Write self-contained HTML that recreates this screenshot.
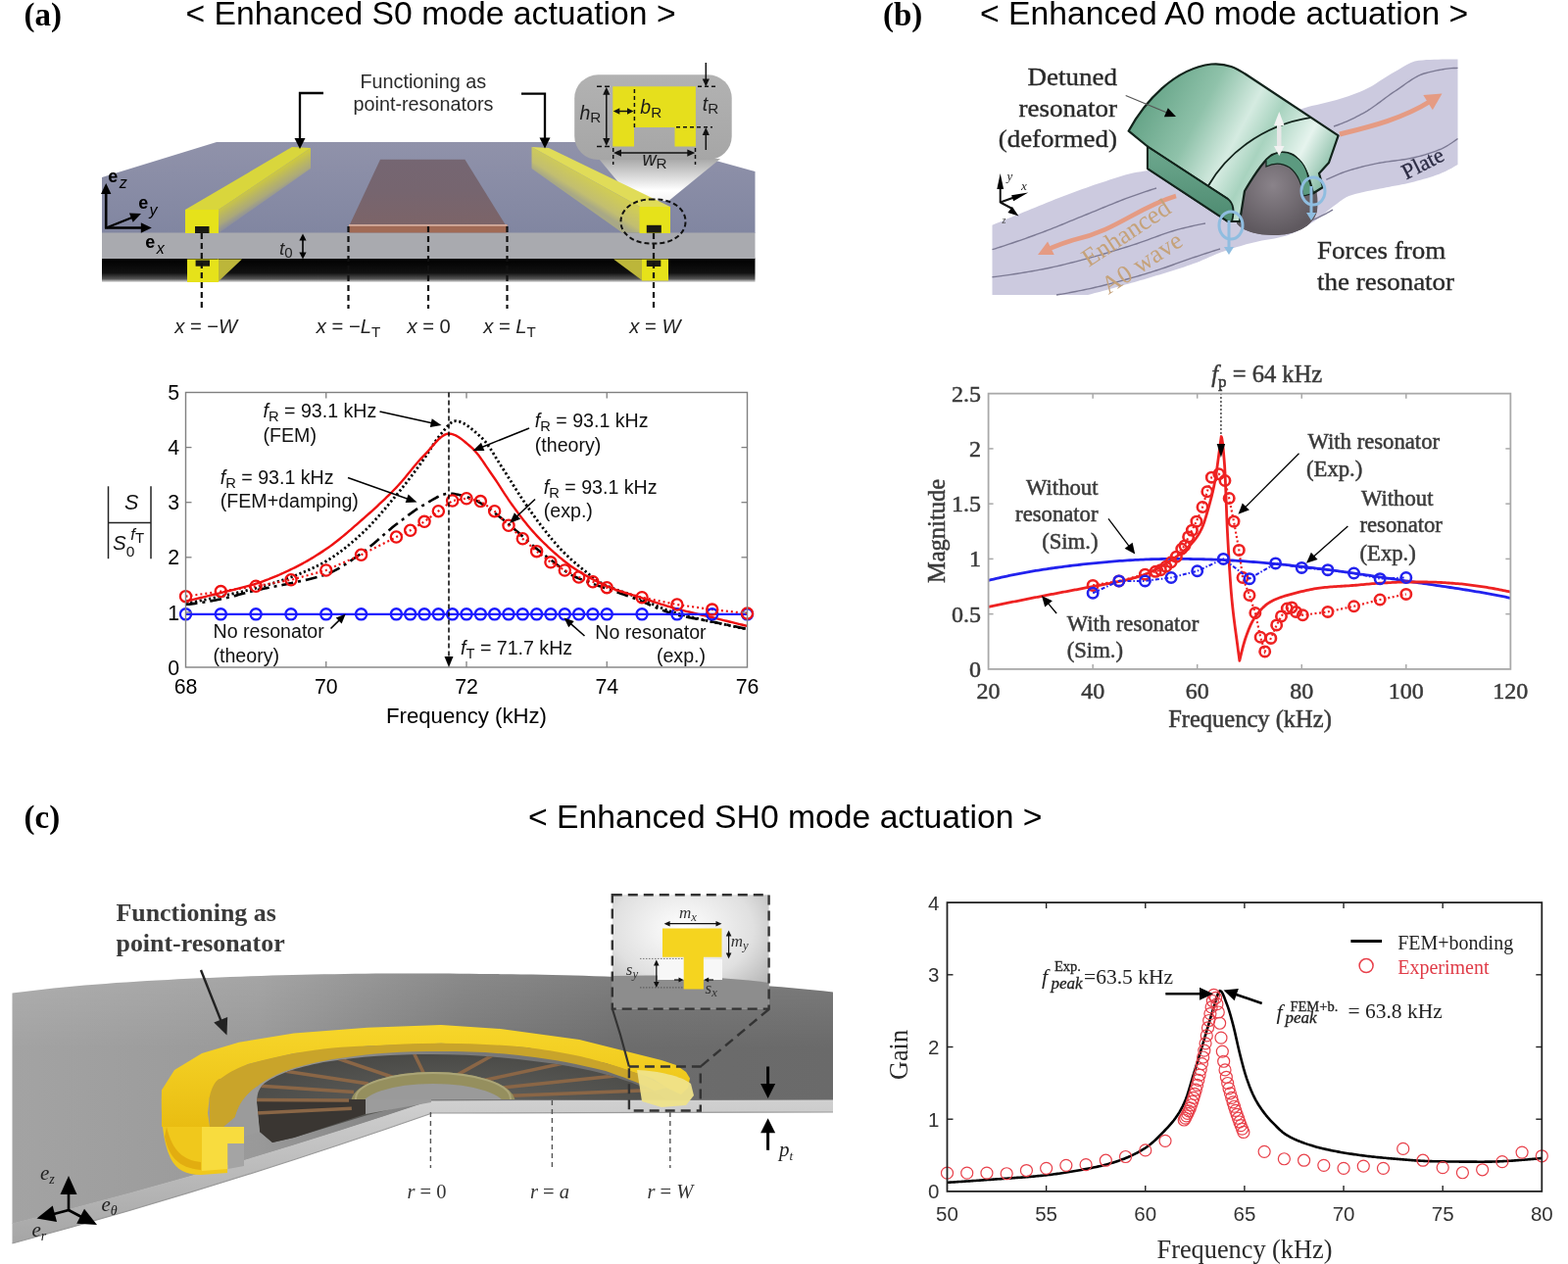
<!DOCTYPE html>
<html><head><meta charset="utf-8"><title>Enhanced mode actuation</title>
<style>html,body{margin:0;padding:0;background:#fff;overflow:hidden}svg{display:block}.bt text{stroke:#3a3a3a;stroke-width:0.5px}.ct text{stroke-width:0.35px;stroke:currentColor}</style>
</head><body>
<svg width="1600" height="1290" viewBox="0 0 1600 1290">
<text x="24.5" y="25.5" font-size="33" font-family="'Liberation Serif', 'Times New Roman', serif" font-weight="bold" fill="#000">(a)</text>
<text x="901" y="25.5" font-size="33" font-family="'Liberation Serif', 'Times New Roman', serif" font-weight="bold" fill="#000">(b)</text>
<text x="24.5" y="845" font-size="33" font-family="'Liberation Serif', 'Times New Roman', serif" font-weight="bold" fill="#000">(c)</text>
<text x="189.5" y="25" font-size="33.7" font-family="'Liberation Sans', Arial, sans-serif" fill="#000">&lt; Enhanced S0 mode actuation &gt;</text>
<text x="1000" y="25" font-size="33.7" font-family="'Liberation Sans', Arial, sans-serif" fill="#000">&lt; Enhanced A0 mode actuation &gt;</text>
<text x="539" y="844.5" font-size="33.7" font-family="'Liberation Sans', Arial, sans-serif" fill="#000">&lt; Enhanced SH0 mode actuation &gt;</text>
<defs><linearGradient id="aPlate" x1="0" y1="0" x2="0" y2="1"><stop offset="0" stop-color="#9092aa"/><stop offset="1" stop-color="#8186a1"/></linearGradient><linearGradient id="aBlack" x1="0" y1="0" x2="0" y2="1"><stop offset="0" stop-color="#000"/><stop offset="0.6" stop-color="#111"/><stop offset="0.85" stop-color="#555"/><stop offset="1" stop-color="#fff"/></linearGradient><linearGradient id="aTrans" x1="0" y1="0" x2="0" y2="1"><stop offset="0" stop-color="#756672"/><stop offset="0.5" stop-color="#76656f"/><stop offset="1" stop-color="#7c6468"/></linearGradient><linearGradient id="aCone" x1="0" y1="0" x2="0" y2="1"><stop offset="0" stop-color="#a8a8a8"/><stop offset="0.75" stop-color="#ffffff"/><stop offset="1" stop-color="#f4f4f4"/></linearGradient><linearGradient id="aSideL" gradientUnits="userSpaceOnUse" x1="270" y1="182.5" x2="283" y2="203"><stop offset="0" stop-color="#cdc840"/><stop offset="0.6" stop-color="#b4b070" stop-opacity="0.8"/><stop offset="1" stop-color="#8e90a0" stop-opacity="0.3"/></linearGradient><linearGradient id="aSideR" gradientUnits="userSpaceOnUse" x1="597" y1="180" x2="585" y2="199"><stop offset="0" stop-color="#d0cc55"/><stop offset="0.7" stop-color="#c2be70"/><stop offset="1" stop-color="#a8a886"/></linearGradient><linearGradient id="aInset" x1="0" y1="0" x2="0" y2="1"><stop offset="0" stop-color="#b2b2b2"/><stop offset="1" stop-color="#a6a6a6"/></linearGradient></defs>
<polygon points="104,181 221,145 700,145 727,163 770.5,175 770.5,238 104,238" fill="url(#aPlate)"/>
<rect x="104" y="263.5" width="666.5" height="25" fill="url(#aBlack)"/>
<rect x="104" y="237.5" width="666.5" height="26.5" fill="#a9aaaf"/>
<polygon points="388,162.8 474.4,162.8 515.5,229 357,229" fill="url(#aTrans)"/>
<rect x="356" y="229" width="161.5" height="8.5" fill="#a16a55"/>
<rect x="356" y="229" width="161.5" height="1.8" fill="#d2aa9c"/>
<polygon points="611,162 735,162 682.3,205 646.7,205" fill="url(#aCone)"/>
<polygon points="223,214 317,151 317,172 223,238" fill="url(#aSideL)"/>
<polygon points="189,214 223,214 317,151 298,150" fill="#d9d63c"/>
<rect x="189" y="214" width="34" height="24" fill="#e6e21a"/>
<polygon points="222,264.5 247,264.5 222,288" fill="#bcb63a"/>
<rect x="191" y="264.5" width="32" height="23.5" fill="#e6e21a"/>
<rect x="199" y="231" width="14.5" height="7" fill="#1a1a12"/>
<rect x="199.6" y="265.5" width="14.4" height="6.2" fill="#1a1a12"/>
<polygon points="542.5,150 653,211 653,237.5 635,237.5 542.5,172" fill="url(#aSideR)"/>
<polygon points="542.5,150 560,151 684,211 653,211" fill="#e0dc58"/>
<rect x="652.5" y="211" width="31.5" height="27" fill="#e6e21a"/>
<polygon points="626,264.5 655,264.5 655,286" fill="#bcb63a"/>
<rect x="655" y="264.5" width="27" height="22" fill="#e6e21a"/>
<rect x="659.8" y="229.8" width="15" height="7.8" fill="#1a1a12"/>
<rect x="659.8" y="265.5" width="14.5" height="6.5" fill="#1a1a12"/>
<rect x="633.5" y="203.5" width="66" height="45" rx="30" ry="22" fill="none" stroke="#111" stroke-width="2" stroke-dasharray="5,3"/>
<rect x="586.2" y="76.3" width="160.5" height="86.8" rx="24" fill="url(#aInset)"/>
<path d="M625.3,88.2 H709.9 V149.6 H688.5 V130 H647 V149.6 H625.3 Z" fill="#e6df1c"/>
<line x1="618.8" y1="95" x2="618.8" y2="143" stroke="#111" stroke-width="1.5"/>
<polygon points="618.8,88.8 622.4,96.8 615.2,96.8" fill="#111"/>
<polygon points="618.8,149 615.2,141 622.4,141" fill="#111"/>
<line x1="609" y1="88.2" x2="625" y2="88.2" stroke="#111" stroke-width="1.5" stroke-dasharray="5,3"/>
<line x1="609" y1="149.6" x2="625" y2="149.6" stroke="#111" stroke-width="1.5" stroke-dasharray="5,3"/>
<line x1="630" y1="113.5" x2="642" y2="113.5" stroke="#111" stroke-width="1.5"/>
<polygon points="625.8,113.5 632.3,110.2 632.3,116.8" fill="#111"/>
<polygon points="646.5,113.5 640,116.8 640,110.2" fill="#111"/>
<line x1="647.4" y1="91" x2="647.4" y2="130" stroke="#111" stroke-width="1.5" stroke-dasharray="4,3"/>
<line x1="720.3" y1="64" x2="720.3" y2="82" stroke="#111" stroke-width="1.5"/>
<polygon points="720.3,88.5 716.7,80.5 723.9,80.5" fill="#111"/>
<line x1="712" y1="88.2" x2="730" y2="88.2" stroke="#111" stroke-width="1.5" stroke-dasharray="4,3"/>
<line x1="720.3" y1="153" x2="720.3" y2="136" stroke="#111" stroke-width="1.5"/>
<polygon points="720.3,130 723.9,138 716.7,138" fill="#111"/>
<line x1="690" y1="129.8" x2="727" y2="129.8" stroke="#111" stroke-width="1.5" stroke-dasharray="4,3"/>
<line x1="632" y1="156.1" x2="703" y2="156.1" stroke="#111" stroke-width="1.5"/>
<polygon points="626,156.1 634,152.5 634,159.7" fill="#111"/>
<polygon points="709.3,156.1 701.3,159.7 701.3,152.5" fill="#111"/>
<line x1="625.7" y1="151" x2="625.7" y2="168" stroke="#111" stroke-width="1.5" stroke-dasharray="4,3"/>
<line x1="709.5" y1="151" x2="709.5" y2="168" stroke="#111" stroke-width="1.5" stroke-dasharray="4,3"/>
<text x="591.5" y="121.5" font-size="19.5" font-family="'Liberation Sans', Arial, sans-serif" fill="#1c1c1c"><tspan font-style="italic">h</tspan><tspan font-size="15.21" dy="3.5">R</tspan></text>
<text x="653.3" y="116" font-size="19.5" font-family="'Liberation Sans', Arial, sans-serif" fill="#1c1c1c"><tspan font-style="italic">b</tspan><tspan font-size="15.21" dy="3.5">R</tspan></text>
<text x="716.8" y="112.5" font-size="19.5" font-family="'Liberation Sans', Arial, sans-serif" fill="#1c1c1c"><tspan font-style="italic">t</tspan><tspan font-size="15.21" dy="3.5">R</tspan></text>
<text x="655.5" y="168.5" font-size="19.5" font-family="'Liberation Sans', Arial, sans-serif" fill="#1c1c1c"><tspan font-style="italic">w</tspan><tspan font-size="15.21" dy="3.5">R</tspan></text>
<line x1="108.2" y1="233" x2="108.2" y2="196" stroke="#000" stroke-width="2.6"/>
<polygon points="108.2,187 113.4,198 103,198" fill="#000"/>
<line x1="107" y1="232.5" x2="146" y2="232.5" stroke="#000" stroke-width="2.6"/>
<polygon points="154.8,232.5 143.8,237.7 143.8,227.3" fill="#000"/>
<line x1="108.5" y1="232.5" x2="136" y2="221.5" stroke="#000" stroke-width="2.4"/>
<polygon points="144,218 135.66,226.75 131.93,217.47" fill="#000"/>
<text x="110.3" y="185.6" font-size="18" font-family="'Liberation Sans', Arial, sans-serif" font-weight="bold" fill="#000">e</text>
<text x="121.8" y="191.5" font-size="16" font-family="'Liberation Sans', Arial, sans-serif" font-style="italic" fill="#000">z</text>
<text x="141.2" y="213" font-size="18" font-family="'Liberation Sans', Arial, sans-serif" font-weight="bold" fill="#000">e</text>
<text x="152.5" y="219.5" font-size="16" font-family="'Liberation Sans', Arial, sans-serif" font-style="italic" fill="#000">y</text>
<text x="148.2" y="253" font-size="18" font-family="'Liberation Sans', Arial, sans-serif" font-weight="bold" fill="#000">e</text>
<text x="159.8" y="258.5" font-size="16" font-family="'Liberation Sans', Arial, sans-serif" font-style="italic" fill="#000">x</text>
<text x="285" y="260" font-size="19" font-family="'Liberation Sans', Arial, sans-serif" fill="#222"><tspan font-style="italic">t</tspan><tspan font-size="15" dy="3">0</tspan></text>
<line x1="309" y1="244" x2="309" y2="259" stroke="#000" stroke-width="1.6"/>
<polygon points="309,238.5 312.6,245.5 305.4,245.5" fill="#000"/>
<polygon points="309,264.5 305.4,257.5 312.6,257.5" fill="#000"/>
<text x="367.5" y="90" font-size="19.8" font-family="'Liberation Sans', Arial, sans-serif" fill="#2a2a2a">Functioning as</text>
<text x="360.5" y="113.4" font-size="19.8" font-family="'Liberation Sans', Arial, sans-serif" fill="#2a2a2a">point-resonators</text>
<polyline points="330,95 306,95 306,143" fill="none" stroke="#000" stroke-width="2.3"/>
<polygon points="306,152 300.5,141 311.5,141" fill="#000"/>
<polyline points="532,95.6 556,95.6 556,142" fill="none" stroke="#000" stroke-width="2.3"/>
<polygon points="556,151.5 550.5,140.5 561.5,140.5" fill="#000"/>
<line x1="205.8" y1="238" x2="205.8" y2="315" stroke="#111" stroke-width="2.2" stroke-dasharray="6,4"/>
<line x1="355.5" y1="231" x2="355.5" y2="315" stroke="#111" stroke-width="2.2" stroke-dasharray="6,4"/>
<line x1="437" y1="231" x2="437" y2="315" stroke="#111" stroke-width="2.2" stroke-dasharray="6,4"/>
<line x1="517.5" y1="231" x2="517.5" y2="315" stroke="#111" stroke-width="2.2" stroke-dasharray="6,4"/>
<line x1="667" y1="238" x2="667" y2="315" stroke="#111" stroke-width="2.2" stroke-dasharray="6,4"/>
<text x="178.2" y="340.2" font-size="20.2" font-family="'Liberation Sans', Arial, sans-serif" fill="#222"><tspan font-style="italic">x</tspan> = −<tspan font-style="italic">W</tspan></text>
<text x="322.8" y="340.2" font-size="20.2" font-family="'Liberation Sans', Arial, sans-serif" fill="#222"><tspan font-style="italic">x</tspan> = −<tspan font-style="italic">L</tspan><tspan font-size="15.15" dy="4" font-style="normal">T</tspan></text>
<text x="415.5" y="340.2" font-size="20.2" font-family="'Liberation Sans', Arial, sans-serif" fill="#222"><tspan font-style="italic">x</tspan> = 0</text>
<text x="493.2" y="340.2" font-size="20.2" font-family="'Liberation Sans', Arial, sans-serif" fill="#222"><tspan font-style="italic">x</tspan> = <tspan font-style="italic">L</tspan><tspan font-size="15.15" dy="4" font-style="normal">T</tspan></text>
<text x="642.3" y="340.2" font-size="20.2" font-family="'Liberation Sans', Arial, sans-serif" fill="#222"><tspan font-style="italic">x</tspan> = <tspan font-style="italic">W</tspan></text>
<clipPath id="aclip"><rect x="189.5" y="400.5" width="573" height="280.5"/></clipPath>
<g clip-path="url(#aclip)">
<path d="M189.5,617.05 L191.42,616.83 L193.33,616.6 L195.25,616.36 L197.17,616.11 L199.08,615.85 L201,615.58 L202.91,615.3 L204.83,615.02 L206.75,614.72 L208.66,614.41 L210.58,614.1 L212.5,613.77 L214.41,613.44 L216.33,613.1 L218.25,612.76 L220.16,612.41 L222.08,612.05 L223.99,611.69 L225.91,611.32 L227.83,610.93 L229.74,610.51 L231.66,610.07 L233.58,609.61 L235.49,609.13 L237.41,608.64 L239.33,608.14 L241.24,607.63 L243.16,607.11 L245.08,606.59 L246.99,606.06 L248.91,605.54 L250.82,605.03 L252.74,604.52 L254.66,604.02 L256.57,603.54 L258.49,603.07 L260.41,602.62 L262.32,602.19 L264.24,601.78 L266.16,601.37 L268.07,600.97 L269.99,600.58 L271.9,600.2 L273.82,599.82 L275.74,599.45 L277.65,599.08 L279.57,598.71 L281.49,598.34 L283.4,597.97 L285.32,597.59 L287.24,597.21 L289.15,596.82 L291.07,596.43 L292.98,596.03 L294.9,595.62 L296.82,595.19 L298.73,594.77 L300.65,594.35 L302.57,593.94 L304.48,593.53 L306.4,593.12 L308.32,592.7 L310.23,592.29 L312.15,591.86 L314.07,591.43 L315.98,590.99 L317.9,590.53 L319.81,590.05 L321.73,589.55 L323.65,589.03 L325.56,588.49 L327.48,587.92 L329.4,587.32 L331.31,586.69 L333.23,586.02 L335.15,585.29 L337.06,584.48 L338.98,583.6 L340.89,582.66 L342.81,581.66 L344.73,580.61 L346.64,579.51 L348.56,578.36 L350.48,577.17 L352.39,575.95 L354.31,574.69 L356.23,573.41 L358.14,572.11 L360.06,570.79 L361.97,569.46 L363.89,568.13 L365.81,566.79 L367.72,565.46 L369.64,564.11 L371.56,562.72 L373.47,561.26 L375.39,559.74 L377.31,558.18 L379.22,556.59 L381.14,554.96 L383.06,553.3 L384.97,551.62 L386.89,549.94 L388.8,548.24 L390.72,546.55 L392.64,544.87 L394.55,543.2 L396.47,541.55 L398.39,539.94 L400.3,538.35 L402.22,536.81 L404.14,535.32 L406.05,533.86 L407.97,532.39 L409.88,530.92 L411.8,529.45 L413.72,527.99 L415.63,526.54 L417.55,525.12 L419.47,523.71 L421.38,522.34 L423.3,521 L425.22,519.7 L427.13,518.45 L429.05,517.25 L430.96,516.1 L432.88,515.02 L434.8,513.95 L436.71,512.82 L438.63,511.67 L440.55,510.51 L442.46,509.37 L444.38,508.27 L446.3,507.24 L448.21,506.29 L450.13,505.46 L452.05,504.77 L453.96,504.23 L455.88,503.87 L457.79,503.73 L459.71,503.76 L461.63,503.9 L463.54,504.12 L465.46,504.43 L467.38,504.81 L469.29,505.25 L471.21,505.75 L473.13,506.28 L475.04,506.86 L476.96,507.46 L478.87,508.08 L480.79,508.7 L482.71,509.39 L484.62,510.23 L486.54,511.2 L488.46,512.29 L490.37,513.47 L492.29,514.73 L494.21,516.04 L496.12,517.39 L498.04,518.76 L499.95,520.12 L501.87,521.46 L503.79,522.81 L505.7,524.21 L507.62,525.67 L509.54,527.16 L511.45,528.7 L513.37,530.25 L515.29,531.84 L517.2,533.44 L519.12,535.05 L521.04,536.66 L522.95,538.28 L524.87,539.93 L526.78,541.61 L528.7,543.33 L530.62,545.07 L532.53,546.83 L534.45,548.58 L536.37,550.33 L538.28,552.06 L540.2,553.76 L542.12,555.43 L544.03,557.05 L545.95,558.65 L547.86,560.23 L549.78,561.8 L551.7,563.35 L553.61,564.88 L555.53,566.4 L557.45,567.91 L559.36,569.4 L561.28,570.87 L563.2,572.33 L565.11,573.78 L567.03,575.25 L568.94,576.75 L570.86,578.24 L572.78,579.72 L574.69,581.17 L576.61,582.58 L578.53,583.91 L580.44,585.17 L582.36,586.33 L584.28,587.38 L586.19,588.33 L588.11,589.22 L590.03,590.07 L591.94,590.86 L593.86,591.62 L595.77,592.36 L597.69,593.07 L599.61,593.77 L601.52,594.47 L603.44,595.17 L605.36,595.89 L607.27,596.6 L609.19,597.29 L611.11,597.97 L613.02,598.65 L614.94,599.31 L616.85,599.97 L618.77,600.63 L620.69,601.29 L622.6,601.94 L624.52,602.61 L626.44,603.28 L628.35,603.95 L630.27,604.61 L632.19,605.27 L634.1,605.93 L636.02,606.59 L637.93,607.26 L639.85,607.93 L641.77,608.61 L643.68,609.3 L645.6,609.99 L647.52,610.71 L649.43,611.45 L651.35,612.22 L653.27,613.01 L655.18,613.83 L657.1,614.65 L659.02,615.49 L660.93,616.34 L662.85,617.19 L664.76,618.04 L666.68,618.88 L668.6,619.72 L670.51,620.54 L672.43,621.34 L674.35,622.13 L676.26,622.89 L678.18,623.62 L680.1,624.32 L682.01,624.98 L683.93,625.6 L685.84,626.18 L687.76,626.71 L689.68,627.21 L691.59,627.68 L693.51,628.14 L695.43,628.58 L697.34,629 L699.26,629.4 L701.18,629.79 L703.09,630.17 L705.01,630.54 L706.92,630.91 L708.84,631.26 L710.76,631.61 L712.67,631.96 L714.59,632.31 L716.51,632.65 L718.42,633 L720.34,633.35 L722.26,633.71 L724.17,634.07 L726.09,634.45 L728.01,634.83 L729.92,635.22 L731.84,635.62 L733.75,636.01 L735.67,636.41 L737.59,636.8 L739.5,637.2 L741.42,637.6 L743.34,638 L745.25,638.4 L747.17,638.79 L749.09,639.19 L751,639.6 L752.92,640 L754.83,640.4 L756.75,640.8 L758.67,641.2 L760.58,641.61 L762.5,642.01" fill="none" stroke="#000" stroke-width="2.6" stroke-dasharray="12,5,3,5"/>
<path d="M189.5,615.92 L191.42,615.56 L193.33,615.2 L195.25,614.83 L197.17,614.46 L199.08,614.08 L201,613.7 L202.91,613.32 L204.83,612.94 L206.75,612.55 L208.66,612.16 L210.58,611.76 L212.5,611.36 L214.41,610.96 L216.33,610.56 L218.25,610.15 L220.16,609.74 L222.08,609.33 L223.99,608.92 L225.91,608.5 L227.83,608.08 L229.74,607.66 L231.66,607.24 L233.58,606.82 L235.49,606.4 L237.41,605.97 L239.33,605.54 L241.24,605.1 L243.16,604.66 L245.08,604.22 L246.99,603.77 L248.91,603.31 L250.82,602.85 L252.74,602.38 L254.66,601.9 L256.57,601.41 L258.49,600.91 L260.41,600.41 L262.32,599.89 L264.24,599.37 L266.16,598.84 L268.07,598.3 L269.99,597.76 L271.9,597.2 L273.82,596.64 L275.74,596.07 L277.65,595.49 L279.57,594.9 L281.49,594.29 L283.4,593.68 L285.32,593.06 L287.24,592.42 L289.15,591.77 L291.07,591.11 L292.98,590.43 L294.9,589.74 L296.82,589.04 L298.73,588.33 L300.65,587.6 L302.57,586.86 L304.48,586.11 L306.4,585.34 L308.32,584.56 L310.23,583.76 L312.15,582.94 L314.07,582.1 L315.98,581.25 L317.9,580.37 L319.81,579.47 L321.73,578.54 L323.65,577.6 L325.56,576.62 L327.48,575.62 L329.4,574.6 L331.31,573.54 L333.23,572.45 L335.15,571.32 L337.06,570.14 L338.98,568.91 L340.89,567.63 L342.81,566.31 L344.73,564.95 L346.64,563.55 L348.56,562.11 L350.48,560.63 L352.39,559.12 L354.31,557.58 L356.23,556 L358.14,554.4 L360.06,552.76 L361.97,551.11 L363.89,549.42 L365.81,547.72 L367.72,546 L369.64,544.25 L371.56,542.44 L373.47,540.58 L375.39,538.66 L377.31,536.69 L379.22,534.67 L381.14,532.6 L383.06,530.5 L384.97,528.36 L386.89,526.18 L388.8,523.98 L390.72,521.75 L392.64,519.49 L394.55,517.22 L396.47,514.93 L398.39,512.63 L400.3,510.32 L402.22,508.01 L404.14,505.7 L406.05,503.37 L407.97,501.01 L409.88,498.62 L411.8,496.2 L413.72,493.76 L415.63,491.29 L417.55,488.79 L419.47,486.26 L421.38,483.72 L423.3,481.15 L425.22,478.56 L427.13,475.95 L429.05,473.32 L430.96,470.68 L432.88,468.02 L434.8,465.27 L436.71,462.35 L438.63,459.34 L440.55,456.29 L442.46,453.26 L444.38,450.33 L446.3,447.54 L448.21,444.97 L450.13,442.67 L452.05,440.45 L453.96,438.12 L455.88,435.82 L457.79,433.7 L459.71,431.89 L461.63,430.53 L463.54,429.78 L465.46,429.7 L467.38,429.96 L469.29,430.46 L471.21,431.18 L473.13,432.09 L475.04,433.19 L476.96,434.44 L478.87,435.83 L480.79,437.33 L482.71,438.92 L484.62,440.59 L486.54,442.3 L488.46,444.05 L490.37,445.8 L492.29,447.56 L494.21,449.57 L496.12,451.91 L498.04,454.5 L499.95,457.31 L501.87,460.28 L503.79,463.35 L505.7,466.48 L507.62,469.62 L509.54,472.7 L511.45,475.69 L513.37,478.61 L515.29,481.58 L517.2,484.59 L519.12,487.64 L521.04,490.71 L522.95,493.78 L524.87,496.84 L526.78,499.88 L528.7,502.88 L530.62,505.82 L532.53,508.7 L534.45,511.53 L536.37,514.35 L538.28,517.14 L540.2,519.91 L542.12,522.65 L544.03,525.36 L545.95,528.03 L547.86,530.66 L549.78,533.25 L551.7,535.79 L553.61,538.28 L555.53,540.74 L557.45,543.18 L559.36,545.59 L561.28,547.98 L563.2,550.33 L565.11,552.63 L567.03,554.87 L568.94,557.06 L570.86,559.19 L572.78,561.23 L574.69,563.2 L576.61,565.11 L578.53,566.97 L580.44,568.77 L582.36,570.53 L584.28,572.24 L586.19,573.92 L588.11,575.56 L590.03,577.17 L591.94,578.75 L593.86,580.31 L595.77,581.85 L597.69,583.39 L599.61,584.94 L601.52,586.48 L603.44,587.99 L605.36,589.46 L607.27,590.88 L609.19,592.23 L611.11,593.49 L613.02,594.66 L614.94,595.72 L616.85,596.69 L618.77,597.6 L620.69,598.46 L622.6,599.28 L624.52,600.05 L626.44,600.8 L628.35,601.52 L630.27,602.21 L632.19,602.89 L634.1,603.56 L636.02,604.23 L637.93,604.9 L639.85,605.58 L641.77,606.27 L643.68,606.99 L645.6,607.73 L647.52,608.49 L649.43,609.29 L651.35,610.1 L653.27,610.92 L655.18,611.76 L657.1,612.61 L659.02,613.46 L660.93,614.32 L662.85,615.18 L664.76,616.03 L666.68,616.88 L668.6,617.72 L670.51,618.56 L672.43,619.37 L674.35,620.17 L676.26,620.95 L678.18,621.71 L680.1,622.44 L682.01,623.14 L683.93,623.81 L685.84,624.45 L687.76,625.04 L689.68,625.62 L691.59,626.17 L693.51,626.71 L695.43,627.23 L697.34,627.74 L699.26,628.24 L701.18,628.72 L703.09,629.19 L705.01,629.66 L706.92,630.11 L708.84,630.56 L710.76,630.99 L712.67,631.43 L714.59,631.86 L716.51,632.28 L718.42,632.7 L720.34,633.12 L722.26,633.54 L724.17,633.96 L726.09,634.39 L728.01,634.81 L729.92,635.24 L731.84,635.67 L733.75,636.09 L735.67,636.51 L737.59,636.92 L739.5,637.33 L741.42,637.74 L743.34,638.15 L745.25,638.55 L747.17,638.95 L749.09,639.34 L751,639.73 L752.92,640.12 L754.83,640.51 L756.75,640.89 L758.67,641.26 L760.58,641.64 L762.5,642.01" fill="none" stroke="#000" stroke-width="2.8" stroke-dasharray="2.2,2.6"/>
<path d="M189.5,613.68 L191.42,613.23 L193.33,612.78 L195.25,612.32 L197.17,611.87 L199.08,611.41 L201,610.95 L202.91,610.49 L204.83,610.03 L206.75,609.56 L208.66,609.1 L210.58,608.63 L212.5,608.16 L214.41,607.69 L216.33,607.22 L218.25,606.74 L220.16,606.27 L222.08,605.79 L223.99,605.31 L225.91,604.83 L227.83,604.36 L229.74,603.89 L231.66,603.43 L233.58,602.97 L235.49,602.51 L237.41,602.06 L239.33,601.6 L241.24,601.13 L243.16,600.67 L245.08,600.19 L246.99,599.71 L248.91,599.21 L250.82,598.71 L252.74,598.19 L254.66,597.66 L256.57,597.11 L258.49,596.54 L260.41,595.95 L262.32,595.34 L264.24,594.71 L266.16,594.06 L268.07,593.39 L269.99,592.69 L271.9,591.98 L273.82,591.25 L275.74,590.49 L277.65,589.72 L279.57,588.94 L281.49,588.14 L283.4,587.32 L285.32,586.48 L287.24,585.63 L289.15,584.77 L291.07,583.9 L292.98,583.01 L294.9,582.11 L296.82,581.2 L298.73,580.27 L300.65,579.33 L302.57,578.36 L304.48,577.37 L306.4,576.36 L308.32,575.32 L310.23,574.27 L312.15,573.2 L314.07,572.1 L315.98,570.99 L317.9,569.86 L319.81,568.7 L321.73,567.53 L323.65,566.33 L325.56,565.12 L327.48,563.88 L329.4,562.63 L331.31,561.35 L333.23,560.06 L335.15,558.73 L337.06,557.36 L338.98,555.95 L340.89,554.5 L342.81,553.02 L344.73,551.51 L346.64,549.97 L348.56,548.41 L350.48,546.82 L352.39,545.22 L354.31,543.59 L356.23,541.95 L358.14,540.3 L360.06,538.64 L361.97,536.97 L363.89,535.3 L365.81,533.62 L367.72,531.95 L369.64,530.27 L371.56,528.59 L373.47,526.9 L375.39,525.2 L377.31,523.49 L379.22,521.77 L381.14,520.04 L383.06,518.29 L384.97,516.52 L386.89,514.74 L388.8,512.95 L390.72,511.13 L392.64,509.29 L394.55,507.44 L396.47,505.56 L398.39,503.66 L400.3,501.73 L402.22,499.78 L404.14,497.8 L406.05,495.77 L407.97,493.65 L409.88,491.46 L411.8,489.21 L413.72,486.91 L415.63,484.58 L417.55,482.24 L419.47,479.89 L421.38,477.55 L423.3,475.24 L425.22,472.98 L427.13,470.76 L429.05,468.62 L430.96,466.56 L432.88,464.6 L434.8,462.62 L436.71,460.51 L438.63,458.31 L440.55,456.07 L442.46,453.85 L444.38,451.69 L446.3,449.64 L448.21,447.75 L450.13,446.09 L452.05,444.68 L453.96,443.6 L455.88,442.88 L457.79,442.58 L459.71,442.69 L461.63,443.08 L463.54,443.75 L465.46,444.64 L467.38,445.73 L469.29,446.99 L471.21,448.39 L473.13,449.9 L475.04,451.49 L476.96,453.12 L478.87,454.78 L480.79,456.41 L482.71,458.14 L484.62,460.15 L486.54,462.39 L488.46,464.83 L490.37,467.44 L492.29,470.16 L494.21,472.96 L496.12,475.81 L498.04,478.66 L499.95,481.47 L501.87,484.21 L503.79,486.96 L505.7,489.79 L507.62,492.69 L509.54,495.64 L511.45,498.6 L513.37,501.58 L515.29,504.53 L517.2,507.45 L519.12,510.31 L521.04,513.09 L522.95,515.77 L524.87,518.41 L526.78,521.03 L528.7,523.61 L530.62,526.17 L532.53,528.69 L534.45,531.16 L536.37,533.59 L538.28,535.95 L540.2,538.26 L542.12,540.49 L544.03,542.66 L545.95,544.77 L547.86,546.83 L549.78,548.85 L551.7,550.82 L553.61,552.74 L555.53,554.63 L557.45,556.48 L559.36,558.29 L561.28,560.07 L563.2,561.82 L565.11,563.53 L567.03,565.23 L568.94,566.9 L570.86,568.55 L572.78,570.17 L574.69,571.75 L576.61,573.29 L578.53,574.79 L580.44,576.24 L582.36,577.64 L584.28,578.98 L586.19,580.28 L588.11,581.53 L590.03,582.76 L591.94,583.95 L593.86,585.1 L595.77,586.23 L597.69,587.33 L599.61,588.4 L601.52,589.44 L603.44,590.46 L605.36,591.46 L607.27,592.44 L609.19,593.41 L611.11,594.36 L613.02,595.28 L614.94,596.19 L616.85,597.07 L618.77,597.92 L620.69,598.75 L622.6,599.55 L624.52,600.32 L626.44,601.06 L628.35,601.77 L630.27,602.45 L632.19,603.11 L634.1,603.75 L636.02,604.37 L637.93,604.98 L639.85,605.58 L641.77,606.17 L643.68,606.75 L645.6,607.34 L647.52,607.92 L649.43,608.5 L651.35,609.09 L653.27,609.69 L655.18,610.3 L657.1,610.92 L659.02,611.54 L660.93,612.16 L662.85,612.79 L664.76,613.42 L666.68,614.04 L668.6,614.67 L670.51,615.29 L672.43,615.91 L674.35,616.52 L676.26,617.13 L678.18,617.72 L680.1,618.31 L682.01,618.89 L683.93,619.45 L685.84,620 L687.76,620.54 L689.68,621.07 L691.59,621.58 L693.51,622.09 L695.43,622.59 L697.34,623.08 L699.26,623.56 L701.18,624.04 L703.09,624.51 L705.01,624.98 L706.92,625.44 L708.84,625.9 L710.76,626.36 L712.67,626.81 L714.59,627.26 L716.51,627.72 L718.42,628.17 L720.34,628.63 L722.26,629.08 L724.17,629.54 L726.09,630.01 L728.01,630.47 L729.92,630.95 L731.84,631.42 L733.75,631.89 L735.67,632.36 L737.59,632.83 L739.5,633.3 L741.42,633.77 L743.34,634.24 L745.25,634.71 L747.17,635.18 L749.09,635.65 L751,636.12 L752.92,636.58 L754.83,637.05 L756.75,637.52 L758.67,637.99 L760.58,638.46 L762.5,638.92" fill="none" stroke="#ee1111" stroke-width="2.4"/>
<line x1="189.5" y1="626.86" x2="762.5" y2="626.86" stroke="#1a1aff" stroke-width="2.2"/>
<path d="M189.5,608.63 L225.31,603.58 L261.12,598.25 L296.94,591.8 L332.75,581.98 L368.56,566.28 L404.38,548.04 L418.7,541.31 L433.03,532.34 L447.35,521.68 L461.67,511.02 L476,508.77 L490.33,511.58 L504.65,521.68 L518.98,536.26 L533.3,549.73 L547.62,562.63 L561.95,573.85 L576.28,581.98 L590.6,589 L604.92,593.76 L619.25,599.65 L655.06,609.75 L690.88,617.05 L726.69,622.1 L762.5,626.02" fill="none" stroke="#ee1111" stroke-width="2.2" stroke-dasharray="2,3"/>
</g>
<circle cx="189.5" cy="626.86" r="5.6" fill="none" stroke="#1a1aff" stroke-width="2.3"/>
<circle cx="225.31" cy="626.86" r="5.6" fill="none" stroke="#1a1aff" stroke-width="2.3"/>
<circle cx="261.12" cy="626.86" r="5.6" fill="none" stroke="#1a1aff" stroke-width="2.3"/>
<circle cx="296.94" cy="626.86" r="5.6" fill="none" stroke="#1a1aff" stroke-width="2.3"/>
<circle cx="332.75" cy="626.86" r="5.6" fill="none" stroke="#1a1aff" stroke-width="2.3"/>
<circle cx="368.56" cy="626.86" r="5.6" fill="none" stroke="#1a1aff" stroke-width="2.3"/>
<circle cx="404.38" cy="626.86" r="5.6" fill="none" stroke="#1a1aff" stroke-width="2.3"/>
<circle cx="418.7" cy="626.86" r="5.6" fill="none" stroke="#1a1aff" stroke-width="2.3"/>
<circle cx="433.03" cy="626.86" r="5.6" fill="none" stroke="#1a1aff" stroke-width="2.3"/>
<circle cx="447.35" cy="626.86" r="5.6" fill="none" stroke="#1a1aff" stroke-width="2.3"/>
<circle cx="461.67" cy="626.86" r="5.6" fill="none" stroke="#1a1aff" stroke-width="2.3"/>
<circle cx="476" cy="626.86" r="5.6" fill="none" stroke="#1a1aff" stroke-width="2.3"/>
<circle cx="490.33" cy="626.86" r="5.6" fill="none" stroke="#1a1aff" stroke-width="2.3"/>
<circle cx="504.65" cy="626.86" r="5.6" fill="none" stroke="#1a1aff" stroke-width="2.3"/>
<circle cx="518.98" cy="626.86" r="5.6" fill="none" stroke="#1a1aff" stroke-width="2.3"/>
<circle cx="533.3" cy="626.86" r="5.6" fill="none" stroke="#1a1aff" stroke-width="2.3"/>
<circle cx="547.62" cy="626.86" r="5.6" fill="none" stroke="#1a1aff" stroke-width="2.3"/>
<circle cx="561.95" cy="626.86" r="5.6" fill="none" stroke="#1a1aff" stroke-width="2.3"/>
<circle cx="576.28" cy="626.86" r="5.6" fill="none" stroke="#1a1aff" stroke-width="2.3"/>
<circle cx="590.6" cy="626.86" r="5.6" fill="none" stroke="#1a1aff" stroke-width="2.3"/>
<circle cx="604.92" cy="626.86" r="5.6" fill="none" stroke="#1a1aff" stroke-width="2.3"/>
<circle cx="619.25" cy="626.86" r="5.6" fill="none" stroke="#1a1aff" stroke-width="2.3"/>
<circle cx="655.06" cy="626.86" r="5.6" fill="none" stroke="#1a1aff" stroke-width="2.3"/>
<circle cx="690.88" cy="626.86" r="5.6" fill="none" stroke="#1a1aff" stroke-width="2.3"/>
<circle cx="726.69" cy="626.86" r="5.6" fill="none" stroke="#1a1aff" stroke-width="2.3"/>
<circle cx="762.5" cy="626.86" r="5.6" fill="none" stroke="#1a1aff" stroke-width="2.3"/>
<circle cx="189.5" cy="608.63" r="5.6" fill="none" stroke="#ee1111" stroke-width="2.3"/>
<circle cx="225.31" cy="603.58" r="5.6" fill="none" stroke="#ee1111" stroke-width="2.3"/>
<circle cx="261.12" cy="598.25" r="5.6" fill="none" stroke="#ee1111" stroke-width="2.3"/>
<circle cx="296.94" cy="591.8" r="5.6" fill="none" stroke="#ee1111" stroke-width="2.3"/>
<circle cx="332.75" cy="581.98" r="5.6" fill="none" stroke="#ee1111" stroke-width="2.3"/>
<circle cx="368.56" cy="566.28" r="5.6" fill="none" stroke="#ee1111" stroke-width="2.3"/>
<circle cx="404.38" cy="548.04" r="5.6" fill="none" stroke="#ee1111" stroke-width="2.3"/>
<circle cx="418.7" cy="541.31" r="5.6" fill="none" stroke="#ee1111" stroke-width="2.3"/>
<circle cx="433.03" cy="532.34" r="5.6" fill="none" stroke="#ee1111" stroke-width="2.3"/>
<circle cx="447.35" cy="521.68" r="5.6" fill="none" stroke="#ee1111" stroke-width="2.3"/>
<circle cx="461.67" cy="511.02" r="5.6" fill="none" stroke="#ee1111" stroke-width="2.3"/>
<circle cx="476" cy="508.77" r="5.6" fill="none" stroke="#ee1111" stroke-width="2.3"/>
<circle cx="490.33" cy="511.58" r="5.6" fill="none" stroke="#ee1111" stroke-width="2.3"/>
<circle cx="504.65" cy="521.68" r="5.6" fill="none" stroke="#ee1111" stroke-width="2.3"/>
<circle cx="518.98" cy="536.26" r="5.6" fill="none" stroke="#ee1111" stroke-width="2.3"/>
<circle cx="533.3" cy="549.73" r="5.6" fill="none" stroke="#ee1111" stroke-width="2.3"/>
<circle cx="547.62" cy="562.63" r="5.6" fill="none" stroke="#ee1111" stroke-width="2.3"/>
<circle cx="561.95" cy="573.85" r="5.6" fill="none" stroke="#ee1111" stroke-width="2.3"/>
<circle cx="576.28" cy="581.98" r="5.6" fill="none" stroke="#ee1111" stroke-width="2.3"/>
<circle cx="590.6" cy="589" r="5.6" fill="none" stroke="#ee1111" stroke-width="2.3"/>
<circle cx="604.92" cy="593.76" r="5.6" fill="none" stroke="#ee1111" stroke-width="2.3"/>
<circle cx="619.25" cy="599.65" r="5.6" fill="none" stroke="#ee1111" stroke-width="2.3"/>
<circle cx="655.06" cy="609.75" r="5.6" fill="none" stroke="#ee1111" stroke-width="2.3"/>
<circle cx="690.88" cy="617.05" r="5.6" fill="none" stroke="#ee1111" stroke-width="2.3"/>
<circle cx="726.69" cy="622.1" r="5.6" fill="none" stroke="#ee1111" stroke-width="2.3"/>
<circle cx="762.5" cy="626.02" r="5.6" fill="none" stroke="#ee1111" stroke-width="2.3"/>
<rect x="189.5" y="400.5" width="573" height="280.5" fill="none" stroke="#808080" stroke-width="1.4"/>
<line x1="332.75" y1="681" x2="332.75" y2="675" stroke="#808080" stroke-width="1.3"/>
<line x1="332.75" y1="400.5" x2="332.75" y2="406.5" stroke="#808080" stroke-width="1.3"/>
<line x1="476" y1="681" x2="476" y2="675" stroke="#808080" stroke-width="1.3"/>
<line x1="476" y1="400.5" x2="476" y2="406.5" stroke="#808080" stroke-width="1.3"/>
<line x1="619.25" y1="681" x2="619.25" y2="675" stroke="#808080" stroke-width="1.3"/>
<line x1="619.25" y1="400.5" x2="619.25" y2="406.5" stroke="#808080" stroke-width="1.3"/>
<line x1="189.5" y1="624.9" x2="195.5" y2="624.9" stroke="#808080" stroke-width="1.3"/>
<line x1="762.5" y1="624.9" x2="756.5" y2="624.9" stroke="#808080" stroke-width="1.3"/>
<line x1="189.5" y1="568.8" x2="195.5" y2="568.8" stroke="#808080" stroke-width="1.3"/>
<line x1="762.5" y1="568.8" x2="756.5" y2="568.8" stroke="#808080" stroke-width="1.3"/>
<line x1="189.5" y1="512.7" x2="195.5" y2="512.7" stroke="#808080" stroke-width="1.3"/>
<line x1="762.5" y1="512.7" x2="756.5" y2="512.7" stroke="#808080" stroke-width="1.3"/>
<line x1="189.5" y1="456.6" x2="195.5" y2="456.6" stroke="#808080" stroke-width="1.3"/>
<line x1="762.5" y1="456.6" x2="756.5" y2="456.6" stroke="#808080" stroke-width="1.3"/>
<line x1="458" y1="400.5" x2="458" y2="671" stroke="#000" stroke-width="1.5" stroke-dasharray="5,3"/>
<polygon points="458,681 453.5,670 462.5,670" fill="#000"/>
<text x="183" y="688.6" font-size="21.3" font-family="'Liberation Sans', Arial, sans-serif" text-anchor="end" fill="#000">0</text>
<text x="183" y="632.5" font-size="21.3" font-family="'Liberation Sans', Arial, sans-serif" text-anchor="end" fill="#000">1</text>
<text x="183" y="576.4" font-size="21.3" font-family="'Liberation Sans', Arial, sans-serif" text-anchor="end" fill="#000">2</text>
<text x="183" y="520.3" font-size="21.3" font-family="'Liberation Sans', Arial, sans-serif" text-anchor="end" fill="#000">3</text>
<text x="183" y="464.2" font-size="21.3" font-family="'Liberation Sans', Arial, sans-serif" text-anchor="end" fill="#000">4</text>
<text x="183" y="408.1" font-size="21.3" font-family="'Liberation Sans', Arial, sans-serif" text-anchor="end" fill="#000">5</text>
<text x="189.5" y="707.5" font-size="21.3" font-family="'Liberation Sans', Arial, sans-serif" text-anchor="middle" fill="#000">68</text>
<text x="332.75" y="707.5" font-size="21.3" font-family="'Liberation Sans', Arial, sans-serif" text-anchor="middle" fill="#000">70</text>
<text x="476" y="707.5" font-size="21.3" font-family="'Liberation Sans', Arial, sans-serif" text-anchor="middle" fill="#000">72</text>
<text x="619.25" y="707.5" font-size="21.3" font-family="'Liberation Sans', Arial, sans-serif" text-anchor="middle" fill="#000">74</text>
<text x="762.5" y="707.5" font-size="21.3" font-family="'Liberation Sans', Arial, sans-serif" text-anchor="middle" fill="#000">76</text>
<text x="476" y="738" font-size="22.2" font-family="'Liberation Sans', Arial, sans-serif" text-anchor="middle" fill="#000">Frequency (kHz)</text>
<line x1="110.5" y1="496.3" x2="110.5" y2="570.2" stroke="#222" stroke-width="1.5"/>
<line x1="154" y1="496.3" x2="154" y2="570.2" stroke="#222" stroke-width="1.5"/>
<line x1="110.5" y1="533.5" x2="154" y2="533.5" stroke="#222" stroke-width="1.5"/>
<text x="127" y="520" font-size="21.5" font-family="'Liberation Sans', Arial, sans-serif" font-style="italic" fill="#111">S</text>
<text x="115" y="561" font-size="20.5" font-family="'Liberation Sans', Arial, sans-serif" fill="#111"><tspan font-style="italic">S</tspan><tspan font-size="15.5" dy="7">0</tspan><tspan font-size="16.5" font-style="italic" dx="-4" dy="-17">f</tspan><tspan font-size="15" dy="3">T</tspan></text>
<text x="268.5" y="426.3" font-size="19.6" font-family="'Liberation Sans', Arial, sans-serif" fill="#111"><tspan font-style="italic">f</tspan><tspan font-size="14.7" dy="4">R</tspan><tspan dy="-4"> = 93.1 kHz</tspan></text>
<text x="268.5" y="450.8" font-size="19.6" font-family="'Liberation Sans', Arial, sans-serif" fill="#111">(FEM)</text>
<line x1="387.5" y1="420" x2="442.98" y2="432.33" stroke="#000" stroke-width="1.6"/>
<polygon points="450.5,434 438.79,436.01 440.74,427.22" fill="#000"/>
<text x="224.8" y="493.8" font-size="19.6" font-family="'Liberation Sans', Arial, sans-serif" fill="#111"><tspan font-style="italic">f</tspan><tspan font-size="14.7" dy="4">R</tspan><tspan dy="-4"> = 93.1 kHz</tspan></text>
<text x="224.8" y="518.3" font-size="19.6" font-family="'Liberation Sans', Arial, sans-serif" fill="#111">(FEM+damping)</text>
<line x1="355" y1="487.5" x2="418.24" y2="509.93" stroke="#000" stroke-width="1.6"/>
<polygon points="425.5,512.5 413.63,513.06 416.64,504.58" fill="#000"/>
<text x="545.8" y="436.3" font-size="19.6" font-family="'Liberation Sans', Arial, sans-serif" fill="#111"><tspan font-style="italic">f</tspan><tspan font-size="14.7" dy="4">R</tspan><tspan dy="-4"> = 93.1 kHz</tspan></text>
<text x="545.8" y="460.8" font-size="19.6" font-family="'Liberation Sans', Arial, sans-serif" fill="#111">(theory)</text>
<line x1="540" y1="437" x2="489.65" y2="457.14" stroke="#000" stroke-width="1.6"/>
<polygon points="482.5,460 491.04,451.74 494.38,460.09" fill="#000"/>
<text x="554.8" y="503.8" font-size="19.6" font-family="'Liberation Sans', Arial, sans-serif" fill="#111"><tspan font-style="italic">f</tspan><tspan font-size="14.7" dy="4">R</tspan><tspan dy="-4"> = 93.1 kHz</tspan></text>
<text x="554.8" y="528.3" font-size="19.6" font-family="'Liberation Sans', Arial, sans-serif" fill="#111">(exp.)</text>
<line x1="546" y1="509.5" x2="525.6" y2="528.72" stroke="#000" stroke-width="1.6"/>
<polygon points="520,534 524.92,523.18 531.09,529.73" fill="#000"/>
<text x="217.5" y="651.3" font-size="19.6" font-family="'Liberation Sans', Arial, sans-serif" fill="#111">No resonator</text>
<text x="217.5" y="675.5" font-size="19.6" font-family="'Liberation Sans', Arial, sans-serif" fill="#111">(theory)</text>
<line x1="337.5" y1="641.5" x2="347.8" y2="631.4" stroke="#000" stroke-width="1.6"/>
<polygon points="352.8,626.5 348.6,636.5 342.72,630.5" fill="#000"/>
<text x="607.3" y="652.3" font-size="19.6" font-family="'Liberation Sans', Arial, sans-serif" fill="#111">No resonator</text>
<text x="720" y="675.5" font-size="19.6" font-family="'Liberation Sans', Arial, sans-serif" text-anchor="end" fill="#111">(exp.)</text>
<line x1="596.5" y1="649" x2="580.75" y2="635.13" stroke="#000" stroke-width="1.6"/>
<polygon points="575.5,630.5 585.78,633.96 580.23,640.26" fill="#000"/>
<text x="470" y="667.5" font-size="19.6" font-family="'Liberation Sans', Arial, sans-serif" fill="#111"><tspan font-style="italic">f</tspan><tspan font-size="14.7" dy="4">T</tspan><tspan dy="-4"> = 71.7 kHz</tspan></text>
<defs><linearGradient id="bRes" x1="0" y1="0.3" x2="1" y2="0.7"><stop offset="0" stop-color="#5f9f82"/><stop offset="0.3" stop-color="#8fc2aa"/><stop offset="0.5" stop-color="#d5ebe1"/><stop offset="0.62" stop-color="#a8d3bf"/><stop offset="0.8" stop-color="#e6f4ee"/><stop offset="1" stop-color="#6fae92"/></linearGradient><linearGradient id="bFlange" x1="0" y1="0" x2="0" y2="1"><stop offset="0" stop-color="#6ea98f"/><stop offset="1" stop-color="#4d8a70"/></linearGradient><radialGradient id="bHole" cx="0.45" cy="0.4" r="0.6"><stop offset="0" stop-color="#8a838a"/><stop offset="1" stop-color="#5e585e"/></radialGradient></defs>
<path d="M1012.5,229.7 L1016.49,228.05 L1020.48,226.4 L1024.47,224.75 L1028.47,223.11 L1032.46,221.48 L1036.45,219.85 L1040.44,218.22 L1044.43,216.6 L1048.42,214.98 L1052.42,213.36 L1056.41,211.73 L1060.4,210.09 L1064.39,208.46 L1068.38,206.83 L1072.37,205.22 L1076.37,203.61 L1080.36,202.03 L1084.35,200.47 L1088.34,198.93 L1092.33,197.43 L1096.32,195.95 L1100.32,194.49 L1104.31,193.05 L1108.3,191.63 L1112.29,190.24 L1116.28,188.86 L1120.27,187.51 L1124.26,186.18 L1128.26,184.88 L1132.25,183.6 L1136.24,182.31 L1140.23,181.01 L1144.22,179.75 L1148.21,178.56 L1152.21,177.48 L1156.2,176.56 L1160.19,175.82 L1164.18,175.2 L1168.17,174.62 L1172.16,173.96 L1176.16,173.14 L1180.15,172.18 L1184.14,171.11 L1188.13,169.92 L1192.12,168.64 L1196.11,167.28 L1200.11,165.83 L1204.1,164.32 L1208.09,162.74 L1212.08,161.12 L1216.07,159.46 L1220.06,157.76 L1224.05,156.05 L1228.05,154.32 L1232.04,152.58 L1236.03,150.86 L1240.02,149.15 L1244.01,147.46 L1248,145.81 L1252,144.19 L1255.99,142.51 L1259.98,140.78 L1263.97,138.99 L1267.96,137.17 L1271.95,135.31 L1275.95,133.43 L1279.94,131.54 L1283.93,129.65 L1287.92,127.76 L1291.91,125.88 L1295.9,124.03 L1299.89,122.22 L1303.89,120.44 L1307.88,118.71 L1311.87,117.05 L1315.86,115.45 L1319.85,113.94 L1323.84,112.51 L1327.84,111.18 L1331.83,109.96 L1335.82,108.86 L1339.81,107.87 L1343.8,106.93 L1347.79,106.02 L1351.79,105.1 L1355.78,104.12 L1359.77,103.05 L1363.76,101.89 L1367.75,100.69 L1371.74,99.44 L1375.74,98.13 L1379.73,96.75 L1383.72,95.29 L1387.71,93.72 L1391.7,92.03 L1395.69,90.11 L1399.68,87.89 L1403.68,85.43 L1407.67,82.85 L1411.66,80.22 L1415.65,77.64 L1419.64,75.19 L1423.63,72.96 L1427.63,70.64 L1431.62,68.22 L1435.61,65.91 L1439.6,63.94 L1443.59,62.52 L1447.58,61.85 L1451.58,61.44 L1455.57,61.12 L1459.56,60.88 L1463.55,60.73 L1467.54,60.66 L1471.53,60.61 L1475.53,60.56 L1479.52,60.53 L1483.51,60.51 L1487.5,60.5 L1487.5,168 L1484.33,169.86 L1481.16,171.65 L1477.98,173.35 L1474.81,174.94 L1471.64,176.37 L1468.47,177.64 L1465.29,178.8 L1462.12,179.9 L1458.95,180.94 L1455.78,181.93 L1452.61,182.86 L1449.43,183.74 L1446.26,184.59 L1443.09,185.4 L1439.92,186.18 L1436.74,186.94 L1433.57,187.64 L1430.4,188.29 L1427.23,188.91 L1424.05,189.52 L1420.88,190.1 L1417.71,190.69 L1414.54,191.29 L1411.37,191.92 L1408.19,192.57 L1405.02,193.24 L1401.85,193.87 L1398.68,194.47 L1395.5,195.08 L1392.33,195.71 L1389.16,196.39 L1385.99,197.14 L1382.82,197.98 L1379.64,198.93 L1376.47,200.01 L1373.3,201.48 L1370.13,203.43 L1366.95,205.71 L1363.78,208.14 L1360.61,210.55 L1357.44,212.97 L1354.26,215.61 L1351.09,218.32 L1347.92,220.95 L1344.75,223.33 L1341.58,225.42 L1338.4,227.46 L1335.23,229.47 L1332.06,231.41 L1328.89,233.27 L1325.71,235.01 L1322.54,236.63 L1319.37,238.08 L1316.2,239.36 L1313.03,240.44 L1309.85,241.33 L1306.68,242.1 L1303.51,242.78 L1300.34,243.38 L1297.16,243.95 L1293.99,244.49 L1290.82,245.03 L1287.65,245.6 L1284.47,246.23 L1281.3,246.93 L1278.13,247.7 L1274.96,248.51 L1271.79,249.35 L1268.61,250.22 L1265.44,251.13 L1262.27,252.07 L1259.1,253.04 L1255.92,254.04 L1252.75,255.08 L1249.58,256.14 L1246.41,257.29 L1243.24,258.53 L1240.06,259.84 L1236.89,261.19 L1233.72,262.57 L1230.55,263.96 L1227.37,265.32 L1224.2,266.64 L1221.03,267.9 L1217.86,269.07 L1214.68,270.2 L1211.51,271.3 L1208.34,272.38 L1205.17,273.43 L1202,274.47 L1198.82,275.48 L1195.65,276.49 L1192.48,277.48 L1189.31,278.46 L1186.13,279.43 L1182.96,280.39 L1179.79,281.35 L1176.62,282.31 L1173.45,283.27 L1170.27,284.22 L1167.1,285.15 L1163.93,286.08 L1160.76,287.01 L1157.58,287.92 L1154.41,288.83 L1151.24,289.73 L1148.07,290.62 L1144.89,291.51 L1141.72,292.39 L1138.55,293.27 L1135.38,294.15 L1132.21,295.02 L1129.03,295.9 L1125.86,296.76 L1122.69,297.63 L1119.52,298.48 L1116.34,299.33 L1113.17,300.17 L1110,301 L1012.5,301 Z" fill="#cccadf"/>
<path d="M1012.5,254.7 L1015.34,253.81 L1018.18,252.9 L1021.02,251.98 L1023.86,251.06 L1026.69,250.12 L1029.53,249.17 L1032.37,248.22 L1035.21,247.25 L1038.05,246.27 L1040.89,245.29 L1043.73,244.29 L1046.57,243.29 L1049.41,242.28 L1052.25,241.26 L1055.08,240.23 L1057.92,239.19 L1060.76,238.14 L1063.6,237.09 L1066.44,236.01 L1069.28,234.92 L1072.12,233.81 L1074.96,232.68 L1077.8,231.54 L1080.64,230.39 L1083.47,229.23 L1086.31,228.06 L1089.15,226.89 L1091.99,225.72 L1094.83,224.54 L1097.67,223.37 L1100.51,222.2 L1103.35,221.04 L1106.19,219.88 L1109.03,218.74 L1111.86,217.6 L1114.7,216.44 L1117.54,215.28 L1120.38,214.11 L1123.22,212.94 L1126.06,211.77 L1128.9,210.61 L1131.74,209.44 L1134.58,208.29 L1137.42,207.14 L1140.25,206 L1143.09,204.88 L1145.93,203.77 L1148.77,202.68 L1151.61,201.61 L1154.45,200.56 L1157.29,199.54 L1160.13,198.54 L1162.97,197.55 L1165.81,196.59 L1168.64,195.64 L1171.48,194.71 L1174.32,193.79 L1177.16,192.89 L1180,192" fill="none" stroke="#7c7a94" stroke-width="1.4"/>
<path d="M1012.5,282.8 L1016.19,282.37 L1019.87,281.9 L1023.56,281.42 L1027.25,280.91 L1030.93,280.37 L1034.62,279.81 L1038.31,279.23 L1041.99,278.64 L1045.68,278.02 L1049.36,277.38 L1053.05,276.73 L1056.74,276.07 L1060.42,275.39 L1064.11,274.69 L1067.8,273.96 L1071.48,273.2 L1075.17,272.4 L1078.86,271.56 L1082.54,270.7 L1086.23,269.82 L1089.92,268.92 L1093.6,268 L1097.29,267.07 L1100.97,266.12 L1104.66,265.17 L1108.35,264.19 L1112.03,263.19 L1115.72,262.17 L1119.41,261.13 L1123.09,260.07 L1126.78,258.99 L1130.47,257.9 L1134.15,256.79 L1137.84,255.66 L1141.53,254.53 L1145.21,253.39 L1148.9,252.24 L1152.58,251.08 L1156.27,249.91 L1159.96,248.71 L1163.64,247.45 L1167.33,246.14 L1171.02,244.81 L1174.7,243.45 L1178.39,242.1 L1182.08,240.76 L1185.76,239.44 L1189.45,238.16 L1193.14,236.93 L1196.82,235.76 L1200.51,234.68 L1204.19,233.69 L1207.88,232.75 L1211.57,231.85 L1215.25,230.99 L1218.94,230.18 L1222.63,229.41 L1226.31,228.68 L1230,228" fill="none" stroke="#7c7a94" stroke-width="1.4"/>
<path d="M1361,129 L1363.14,128.27 L1365.29,127.5 L1367.43,126.69 L1369.58,125.84 L1371.72,124.95 L1373.86,124.03 L1376.01,123.07 L1378.15,122.08 L1380.3,121.06 L1382.44,120.01 L1384.58,118.93 L1386.73,117.82 L1388.87,116.69 L1391.02,115.54 L1393.16,114.35 L1395.31,113.07 L1397.45,111.71 L1399.59,110.28 L1401.74,108.79 L1403.88,107.25 L1406.03,105.67 L1408.17,104.07 L1410.31,102.47 L1412.46,100.86 L1414.6,99.27 L1416.75,97.7 L1418.89,96.17 L1421.03,94.7 L1423.18,93.28 L1425.32,91.86 L1427.47,90.38 L1429.61,88.87 L1431.75,87.34 L1433.9,85.8 L1436.04,84.29 L1438.19,82.81 L1440.33,81.38 L1442.47,80.03 L1444.62,78.77 L1446.76,77.62 L1448.91,76.6 L1451.05,75.73 L1453.19,75.02 L1455.34,74.46 L1457.48,73.92 L1459.63,73.4 L1461.77,72.89 L1463.92,72.4 L1466.06,71.94 L1468.2,71.5 L1470.35,71.1 L1472.49,70.73 L1474.64,70.4 L1476.78,70.11 L1478.92,69.86 L1481.07,69.67 L1483.21,69.52 L1485.36,69.43 L1487.5,69.4" fill="none" stroke="#7c7a94" stroke-width="1.4"/>
<path d="M1353.3,183.4 L1355.57,182.33 L1357.85,181.29 L1360.12,180.27 L1362.4,179.28 L1364.67,178.33 L1366.95,177.4 L1369.22,176.52 L1371.5,175.68 L1373.77,174.89 L1376.05,174.14 L1378.32,173.44 L1380.59,172.76 L1382.87,172.1 L1385.14,171.47 L1387.42,170.85 L1389.69,170.26 L1391.97,169.68 L1394.24,169.13 L1396.52,168.6 L1398.79,168.09 L1401.07,167.6 L1403.34,167.13 L1405.62,166.68 L1407.89,166.25 L1410.16,165.85 L1412.44,165.49 L1414.71,165.15 L1416.99,164.84 L1419.26,164.54 L1421.54,164.25 L1423.81,163.96 L1426.09,163.67 L1428.36,163.37 L1430.64,163.05 L1432.91,162.7 L1435.18,162.33 L1437.46,161.92 L1439.73,161.47 L1442.01,160.99 L1444.28,160.48 L1446.56,159.93 L1448.83,159.36 L1451.11,158.74 L1453.38,158.1 L1455.66,157.42 L1457.93,156.7 L1460.21,155.94 L1462.48,155.15 L1464.75,154.31 L1467.03,153.44 L1469.3,152.52 L1471.58,151.52 L1473.85,150.38 L1476.13,149.11 L1478.4,147.73 L1480.68,146.26 L1482.95,144.72 L1485.23,143.13 L1487.5,141.5" fill="none" stroke="#7c7a94" stroke-width="1.4"/>
<path d="M1078,301 L1080.83,300.54 L1083.66,300.07 L1086.49,299.58 L1089.32,299.08 L1092.15,298.56 L1094.98,298.03 L1097.81,297.49 L1100.64,296.93 L1103.47,296.36 L1106.31,295.78 L1109.14,295.18 L1111.97,294.58 L1114.8,293.95 L1117.63,293.3 L1120.46,292.63 L1123.29,291.95 L1126.12,291.25 L1128.95,290.54 L1131.78,289.81 L1134.61,289.08 L1137.44,288.34 L1140.27,287.59 L1143.1,286.83 L1145.93,286.07 L1148.76,285.29 L1151.59,284.5 L1154.42,283.7 L1157.25,282.89 L1160.08,282.07 L1162.92,281.24 L1165.75,280.4 L1168.58,279.55 L1171.41,278.68 L1174.24,277.81 L1177.07,276.93 L1179.9,276.03 L1182.73,275.12 L1185.56,274.18 L1188.39,273.22 L1191.22,272.23 L1194.05,271.24 L1196.88,270.23 L1199.71,269.21 L1202.54,268.19 L1205.37,267.18 L1208.2,266.16 L1211.03,265.16 L1213.86,264.17 L1216.69,263.19 L1219.53,262.24 L1222.36,261.3 L1225.19,260.36 L1228.02,259.44 L1230.85,258.51 L1233.68,257.6 L1236.51,256.69 L1239.34,255.79 L1242.17,254.89 L1245,254" fill="none" stroke="#7c7a94" stroke-width="1.4"/>
<path d="M1330,228 L1330.51,227.83 L1331.02,227.66 L1331.53,227.48 L1332.03,227.3 L1332.54,227.12 L1333.05,226.94 L1333.56,226.75 L1334.07,226.56 L1334.58,226.37 L1335.08,226.18 L1335.59,225.98 L1336.1,225.79 L1336.61,225.59 L1337.12,225.38 L1337.63,225.18 L1338.14,224.97 L1338.64,224.77 L1339.15,224.56 L1339.66,224.34 L1340.17,224.13 L1340.68,223.91 L1341.19,223.69 L1341.69,223.47 L1342.2,223.25 L1342.71,223.03 L1343.22,222.8 L1343.73,222.58 L1344.24,222.35 L1344.75,222.12 L1345.25,221.88 L1345.76,221.65 L1346.27,221.41 L1346.78,221.17 L1347.29,220.92 L1347.8,220.68 L1348.31,220.43 L1348.81,220.18 L1349.32,219.92 L1349.83,219.66 L1350.34,219.4 L1350.85,219.14 L1351.36,218.87 L1351.86,218.61 L1352.37,218.34 L1352.88,218.06 L1353.39,217.79 L1353.9,217.51 L1354.41,217.23 L1354.92,216.95 L1355.42,216.66 L1355.93,216.37 L1356.44,216.09 L1356.95,215.79 L1357.46,215.5 L1357.97,215.2 L1358.47,214.91 L1358.98,214.61 L1359.49,214.3 L1360,214" fill="none" stroke="#7c7a94" stroke-width="1.4"/>
<path d="M1200,200 C1160,212 1140,235 1095,245 C1085,248 1075,252 1068,255" fill="none" stroke="#e59b83" stroke-width="4.5"/>
<polygon points="1059,260 1069.06,246.58 1075.77,260" fill="#e59b83"/>
<path d="M1367,137 C1395,130 1430,122 1460,103" fill="none" stroke="#e59b83" stroke-width="5"/>
<polygon points="1471.5,95.5 1461.89,112.16 1452.32,96.92" fill="#e59b83"/>
<path d="M1262,228 C1262,205 1270,180 1285,165 C1295,156 1315,152 1330,165 C1342,178 1346,200 1344,215 C1340,232 1320,240 1300,240 C1283,240 1268,236 1262,228 Z" fill="url(#bHole)"/>
<path d="M1265,226 L1270,195 C1280,178 1290,163 1298,158 C1306,154 1316,155 1322,160 C1333,170 1336,182 1340,197.3 L1344,215 C1340,232 1320,240 1300,240 C1283,240 1268,236 1262,228 Z" fill="url(#bHole)"/>
<path d="M1151.6,133.7 C1168,104 1198,70 1236,65.5 C1252,64 1262,70 1273,77 L1365.6,138.4 L1356,166 L1346,177 L1350,191 L1340,197.3 C1336,182 1333,170 1322,160 C1316,155 1306,154 1298,158 C1290,163 1280,178 1270,195 L1265,226 L1253,226 L1171,172 L1171,149.5 Z" fill="url(#bRes)" stroke="#12231b" stroke-width="2.2" stroke-linejoin="round"/>
<path d="M1171,149.5 L1253,203 C1258,207 1260,215 1257,226 L1253,226 L1171,172 Z" fill="url(#bFlange)" stroke="#12231b" stroke-width="1.8"/>
<path d="M1292,163 C1298,157 1306,154 1314,156 C1326,160 1333,170 1335,182 L1340,197.3 L1330,200 C1328,188 1325,178 1316,171 C1308,166 1300,166 1292,170 Z" fill="#5c9a80" stroke="#12231b" stroke-width="1.2"/>
<path d="M1233,189.5 C1250,160 1285,128 1338,119.8" fill="none" stroke="#12231b" stroke-width="1.8"/>
<path d="M1171,149.5 L1253,203" fill="none" stroke="#12231b" stroke-width="1.6"/>
<rect x="1303" y="127" width="4.5" height="26" fill="#e8e8e8"/>
<polygon points="1305.3,114 1300,128 1310.5,128" fill="#f2f2f2"/>
<polygon points="1305.3,159 1300,149 1310.5,149" fill="#f2f2f2"/>
<ellipse cx="1256" cy="230" rx="12" ry="14" fill="none" stroke="#8fbde0" stroke-width="3"/>
<line x1="1254" y1="225" x2="1254" y2="254" stroke="#8fbde0" stroke-width="3"/>
<polygon points="1254,260 1249,252 1259,252" fill="#8fbde0"/>
<ellipse cx="1340" cy="195" rx="12" ry="14" fill="none" stroke="#8fbde0" stroke-width="3"/>
<line x1="1338" y1="190" x2="1338" y2="219" stroke="#8fbde0" stroke-width="3"/>
<polygon points="1338,225 1333,217 1343,217" fill="#8fbde0"/>
<line x1="1148.7" y1="97.5" x2="1192" y2="115.5" stroke="#555" stroke-width="1.2"/>
<polygon points="1200,119 1187.92,119.35 1191.79,110.13" fill="#000"/>
<text x="0" y="0" font-size="25" font-family="'Liberation Serif', 'Times New Roman', serif" fill="#2a2a2a" stroke="#2a2a2a" stroke-width="0.35" text-anchor="end" transform="translate(1140,86.5) scale(1.08,1)">Detuned</text>
<text x="0" y="0" font-size="25" font-family="'Liberation Serif', 'Times New Roman', serif" fill="#2a2a2a" stroke="#2a2a2a" stroke-width="0.35" text-anchor="end" transform="translate(1140,118.8) scale(1.08,1)">resonator</text>
<text x="0" y="0" font-size="25" font-family="'Liberation Serif', 'Times New Roman', serif" fill="#2a2a2a" stroke="#2a2a2a" stroke-width="0.35" text-anchor="end" transform="translate(1140,150.2) scale(1.08,1)">(deformed)</text>
<text x="0" y="0" font-size="25" font-family="'Liberation Serif', 'Times New Roman', serif" fill="#2a2a2a" stroke="#2a2a2a" stroke-width="0.35" transform="translate(1344,263.8) scale(1.08,1)">Forces from</text>
<text x="0" y="0" font-size="25" font-family="'Liberation Serif', 'Times New Roman', serif" fill="#2a2a2a" stroke="#2a2a2a" stroke-width="0.35" transform="translate(1344,296.3) scale(1.08,1)">the resonator</text>
<text x="0" y="0" font-size="22.5" font-family="'Liberation Serif', 'Times New Roman', serif" fill="#2c2c44" stroke="#2c2c44" stroke-width="0.3" transform="translate(1435,183.5) rotate(-27)">Plate</text>
<text x="0" y="0" font-size="26" font-family="'Liberation Serif', 'Times New Roman', serif" fill="#c5a27a" transform="translate(1111,273) rotate(-33.5)">Enhanced</text>
<text x="0" y="0" font-size="26" font-family="'Liberation Serif', 'Times New Roman', serif" fill="#c5a27a" transform="translate(1131,301) rotate(-33.5)">A0 wave</text>
<line x1="1020.7" y1="207" x2="1020.7" y2="190" stroke="#111" stroke-width="2"/>
<polygon points="1020.7,176.9 1024.1,192.9 1017.3,192.9" fill="#000"/>
<line x1="1020.7" y1="206.5" x2="1036" y2="201" stroke="#111" stroke-width="2"/>
<polygon points="1049.2,196.6 1034.19,205.2 1032.09,199.16" fill="#000"/>
<line x1="1020.7" y1="206.5" x2="1033" y2="213" stroke="#111" stroke-width="2"/>
<polygon points="1039.5,220.5 1028.41,216.98 1032.95,210.88" fill="#000"/>
<text x="1027.5" y="183.5" font-size="13" font-family="'Liberation Serif', 'Times New Roman', serif" font-style="italic" fill="#222">y</text>
<text x="1042" y="193.5" font-size="13" font-family="'Liberation Serif', 'Times New Roman', serif" font-style="italic" fill="#222">x</text>
<text x="1022.5" y="227.5" font-size="10" font-family="'Liberation Serif', 'Times New Roman', serif" font-style="italic" fill="#444">z</text>
<g class="bt">
<clipPath id="bclip"><rect x="1008.6" y="401.65" width="532.75" height="281.25"/></clipPath>
<line x1="1245.9" y1="393" x2="1245.9" y2="446" stroke="#555" stroke-width="1.6" stroke-dasharray="2,2"/>
<g clip-path="url(#bclip)">
<path d="M1008.6,592.34 L1011.28,591.68 L1013.95,591.03 L1016.63,590.4 L1019.31,589.79 L1021.99,589.18 L1024.66,588.59 L1027.34,588.02 L1030.02,587.45 L1032.69,586.9 L1035.37,586.36 L1038.05,585.84 L1040.73,585.32 L1043.4,584.82 L1046.08,584.33 L1048.76,583.85 L1051.43,583.38 L1054.11,582.92 L1056.79,582.47 L1059.47,582.03 L1062.14,581.61 L1064.82,581.19 L1067.5,580.78 L1070.17,580.39 L1072.85,580 L1075.53,579.62 L1078.21,579.25 L1080.88,578.88 L1083.56,578.53 L1086.24,578.18 L1088.91,577.84 L1091.59,577.51 L1094.27,577.19 L1096.95,576.88 L1099.62,576.57 L1102.3,576.26 L1104.98,575.97 L1107.65,575.68 L1110.33,575.4 L1113.01,575.12 L1115.69,574.85 L1118.36,574.58 L1121.04,574.32 L1123.72,574.06 L1126.39,573.82 L1129.07,573.57 L1131.75,573.34 L1134.43,573.11 L1137.1,572.89 L1139.78,572.68 L1142.46,572.47 L1145.13,572.28 L1147.81,572.09 L1150.49,571.91 L1153.17,571.74 L1155.84,571.58 L1158.52,571.43 L1161.2,571.29 L1163.87,571.16 L1166.55,571.04 L1169.23,570.93 L1171.91,570.83 L1174.58,570.75 L1177.26,570.67 L1179.94,570.6 L1182.61,570.54 L1185.29,570.5 L1187.97,570.46 L1190.65,570.43 L1193.32,570.4 L1196,570.39 L1198.68,570.38 L1201.35,570.38 L1204.03,570.39 L1206.71,570.41 L1209.39,570.43 L1212.06,570.45 L1214.74,570.49 L1217.42,570.53 L1220.09,570.58 L1222.77,570.63 L1225.45,570.7 L1228.13,570.76 L1230.8,570.84 L1233.48,570.92 L1236.16,571.02 L1238.83,571.11 L1241.51,571.22 L1244.19,571.33 L1246.87,571.45 L1249.54,571.58 L1252.22,571.72 L1254.9,571.87 L1257.57,572.02 L1260.25,572.18 L1262.93,572.34 L1265.61,572.52 L1268.28,572.7 L1270.96,572.89 L1273.64,573.08 L1276.31,573.28 L1278.99,573.49 L1281.67,573.7 L1284.34,573.92 L1287.02,574.15 L1289.7,574.38 L1292.38,574.62 L1295.05,574.86 L1297.73,575.11 L1300.41,575.36 L1303.08,575.62 L1305.76,575.88 L1308.44,576.15 L1311.12,576.42 L1313.79,576.7 L1316.47,576.98 L1319.15,577.27 L1321.82,577.56 L1324.5,577.86 L1327.18,578.15 L1329.86,578.46 L1332.53,578.76 L1335.21,579.07 L1337.89,579.39 L1340.56,579.7 L1343.24,580.02 L1345.92,580.35 L1348.6,580.68 L1351.27,581.01 L1353.95,581.35 L1356.63,581.68 L1359.3,582.03 L1361.98,582.38 L1364.66,582.73 L1367.34,583.08 L1370.01,583.44 L1372.69,583.8 L1375.37,584.17 L1378.04,584.54 L1380.72,584.91 L1383.4,585.29 L1386.08,585.67 L1388.75,586.06 L1391.43,586.44 L1394.11,586.83 L1396.78,587.23 L1399.46,587.62 L1402.14,588.02 L1404.82,588.42 L1407.49,588.82 L1410.17,589.22 L1412.85,589.62 L1415.52,590.02 L1418.2,590.42 L1420.88,590.83 L1423.56,591.23 L1426.23,591.63 L1428.91,592.03 L1431.59,592.42 L1434.26,592.82 L1436.94,593.22 L1439.62,593.61 L1442.3,594 L1444.97,594.39 L1447.65,594.78 L1450.33,595.17 L1453,595.56 L1455.68,595.94 L1458.36,596.33 L1461.04,596.72 L1463.71,597.11 L1466.39,597.51 L1469.07,597.9 L1471.74,598.3 L1474.42,598.7 L1477.1,599.1 L1479.78,599.5 L1482.45,599.91 L1485.13,600.32 L1487.81,600.73 L1490.48,601.15 L1493.16,601.58 L1495.84,602 L1498.52,602.44 L1501.19,602.88 L1503.87,603.32 L1506.55,603.77 L1509.22,604.23 L1511.9,604.69 L1514.58,605.17 L1517.26,605.64 L1519.93,606.13 L1522.61,606.63 L1525.29,607.13 L1527.96,607.64 L1530.64,608.16 L1533.32,608.69 L1536,609.23 L1538.67,609.78 L1541.35,610.34" fill="none" stroke="#2222ee" stroke-width="2.8"/>
<path d="M1008.6,619.34 L1009.79,619.09 L1010.99,618.85 L1012.18,618.6 L1013.38,618.36 L1014.57,618.11 L1015.76,617.87 L1016.96,617.62 L1018.15,617.38 L1019.35,617.14 L1020.54,616.89 L1021.73,616.65 L1022.93,616.41 L1024.12,616.17 L1025.32,615.92 L1026.51,615.68 L1027.7,615.44 L1028.9,615.2 L1030.09,614.96 L1031.29,614.72 L1032.48,614.48 L1033.67,614.24 L1034.87,614 L1036.06,613.76 L1037.26,613.52 L1038.45,613.28 L1039.64,613.04 L1040.84,612.8 L1042.03,612.56 L1043.23,612.33 L1044.42,612.09 L1045.61,611.85 L1046.81,611.61 L1048,611.38 L1049.2,611.14 L1050.39,610.91 L1051.58,610.67 L1052.78,610.43 L1053.97,610.2 L1055.17,609.96 L1056.36,609.73 L1057.55,609.5 L1058.75,609.26 L1059.94,609.03 L1061.14,608.79 L1062.33,608.56 L1063.52,608.33 L1064.72,608.1 L1065.91,607.87 L1067.11,607.64 L1068.3,607.41 L1069.49,607.18 L1070.69,606.95 L1071.88,606.72 L1073.08,606.49 L1074.27,606.26 L1075.46,606.04 L1076.66,605.81 L1077.85,605.58 L1079.05,605.36 L1080.24,605.13 L1081.43,604.9 L1082.63,604.68 L1083.82,604.45 L1085.02,604.23 L1086.21,604 L1087.4,603.78 L1088.6,603.55 L1089.79,603.33 L1090.99,603.11 L1092.18,602.88 L1093.37,602.66 L1094.57,602.43 L1095.76,602.21 L1096.96,601.98 L1098.15,601.76 L1099.34,601.53 L1100.54,601.31 L1101.73,601.08 L1102.93,600.86 L1104.12,600.63 L1105.31,600.4 L1106.51,600.18 L1107.7,599.95 L1108.9,599.72 L1110.09,599.5 L1111.28,599.27 L1112.48,599.04 L1113.67,598.81 L1114.87,598.58 L1116.06,598.35 L1117.25,598.12 L1118.45,597.9 L1119.64,597.68 L1120.84,597.46 L1122.03,597.25 L1123.22,597.03 L1124.42,596.82 L1125.61,596.6 L1126.81,596.39 L1128,596.17 L1129.19,595.96 L1130.39,595.74 L1131.58,595.53 L1132.78,595.31 L1133.97,595.09 L1135.16,594.86 L1136.36,594.64 L1137.55,594.41 L1138.75,594.17 L1139.94,593.93 L1141.13,593.69 L1142.33,593.45 L1143.52,593.19 L1144.72,592.94 L1145.91,592.67 L1147.1,592.4 L1148.3,592.13 L1149.49,591.84 L1150.69,591.55 L1151.88,591.26 L1153.07,590.95 L1154.27,590.64 L1155.46,590.32 L1156.66,589.99 L1157.85,589.65 L1159.04,589.3 L1160.24,588.94 L1161.43,588.57 L1162.63,588.19 L1163.82,587.79 L1165.01,587.39 L1166.21,586.97 L1167.4,586.53 L1168.6,586.08 L1169.79,585.62 L1170.98,585.12 L1172.18,584.61 L1173.37,584.07 L1174.57,583.52 L1175.76,582.94 L1176.95,582.35 L1178.15,581.74 L1179.34,581.11 L1180.54,580.47 L1181.73,579.81 L1182.92,579.14 L1184.12,578.45 L1185.31,577.76 L1186.51,577.05 L1187.7,576.34 L1188.89,575.61 L1190.09,574.88 L1191.28,574.14 L1192.48,573.39 L1193.67,572.64 L1194.86,571.88 L1196.06,571.11 L1197.25,570.32 L1198.45,569.52 L1199.64,568.7 L1200.83,567.86 L1202.03,567 L1203.22,566.11 L1204.42,565.2 L1205.61,564.26 L1206.8,563.29 L1208,562.29 L1209.19,561.25 L1210.39,560.17 L1211.58,559.05 L1212.77,557.9 L1213.97,556.7 L1215.16,555.47 L1216.36,554.18 L1217.55,552.83 L1218.74,551.39 L1219.94,549.86 L1221.13,548.21 L1222.33,546.44 L1223.52,544.53 L1224.71,542.47 L1225.91,540.2 L1227.1,537.46 L1228.3,534.26 L1229.49,530.69 L1230.68,526.82 L1231.88,522.75 L1233.07,518.57 L1234.27,514.34 L1235.46,509.96 L1236.65,505.31 L1237.85,500.27 L1239.04,494.72 L1240.24,488.54 L1241.43,480.93 L1242.62,472.16 L1243.82,463.15 L1245.01,454.43 L1246.21,445.52 L1246.52,446.23 L1246.84,447.54 L1247.15,449.38 L1247.47,451.69 L1247.79,454.42 L1248.1,457.5 L1248.42,460.86 L1248.73,464.46 L1249.05,468.22 L1249.37,472.08 L1249.68,476.57 L1250,482.39 L1250.31,489.29 L1250.63,496.97 L1250.95,505.18 L1251.26,513.62 L1251.58,522.03 L1251.9,530.12 L1252.21,537.63 L1252.53,544.28 L1252.84,550.14 L1253.16,555.86 L1253.48,561.47 L1253.79,566.94 L1254.11,572.27 L1254.42,577.43 L1254.74,582.42 L1255.06,587.22 L1255.37,591.82 L1255.69,596.21 L1256,600.36 L1256.32,604.27 L1256.64,607.92 L1256.95,611.34 L1257.27,614.61 L1257.58,617.74 L1257.9,620.74 L1258.22,623.63 L1258.53,626.41 L1258.85,629.09 L1259.16,631.69 L1259.48,634.22 L1259.8,636.68 L1260.11,639.09 L1260.43,641.46 L1260.74,643.79 L1261.06,646.11 L1261.38,648.41 L1261.69,650.72 L1262.01,653.03 L1262.32,655.37 L1262.64,657.74 L1262.96,660.16 L1263.27,662.58 L1263.59,664.97 L1263.9,667.32 L1264.22,669.64 L1264.54,671.95 L1264.85,674.24 L1266.71,666.33 L1268.56,659.09 L1270.42,652.74 L1272.28,647.4 L1274.13,642.54 L1275.99,638.17 L1277.84,634.37 L1279.7,631.26 L1281.55,628.62 L1283.41,626.16 L1285.27,623.89 L1287.12,621.79 L1288.98,619.89 L1290.83,618.17 L1292.69,616.65 L1294.54,615.33 L1296.4,614.21 L1298.26,613.23 L1300.11,612.33 L1301.97,611.5 L1303.82,610.74 L1305.68,610.04 L1307.53,609.38 L1309.39,608.77 L1311.24,608.19 L1313.1,607.65 L1314.96,607.12 L1316.81,606.61 L1318.67,606.11 L1320.52,605.61 L1322.38,605.12 L1324.23,604.64 L1326.09,604.17 L1327.95,603.72 L1329.8,603.27 L1331.66,602.84 L1333.51,602.43 L1335.37,602.03 L1337.22,601.65 L1339.08,601.29 L1340.94,600.95 L1342.79,600.64 L1344.65,600.35 L1346.5,600.08 L1348.36,599.85 L1350.21,599.64 L1352.07,599.45 L1353.93,599.28 L1355.78,599.12 L1357.64,598.97 L1359.49,598.83 L1361.35,598.7 L1363.2,598.58 L1365.06,598.46 L1366.92,598.35 L1368.77,598.23 L1370.63,598.12 L1372.48,598.01 L1374.34,597.9 L1376.19,597.78 L1378.05,597.65 L1379.91,597.52 L1381.76,597.38 L1383.62,597.23 L1385.47,597.07 L1387.33,596.9 L1389.18,596.73 L1391.04,596.56 L1392.9,596.38 L1394.75,596.21 L1396.61,596.04 L1398.46,595.87 L1400.32,595.71 L1402.17,595.56 L1404.03,595.42 L1405.88,595.29 L1407.74,595.17 L1409.6,595.07 L1411.45,594.97 L1413.31,594.86 L1415.16,594.76 L1417.02,594.65 L1418.87,594.55 L1420.73,594.46 L1422.59,594.37 L1424.44,594.29 L1426.3,594.22 L1428.15,594.15 L1430.01,594.1 L1431.86,594.06 L1433.72,594.04 L1435.58,594.03 L1437.43,594.02 L1439.29,594.02 L1441.14,594.02 L1443,594.02 L1444.85,594.02 L1446.71,594.02 L1448.57,594.02 L1450.42,594.02 L1452.28,594.02 L1454.13,594.02 L1455.99,594.02 L1457.84,594.03 L1459.7,594.06 L1461.56,594.1 L1463.41,594.15 L1465.27,594.22 L1467.12,594.3 L1468.98,594.39 L1470.83,594.49 L1472.69,594.6 L1474.55,594.72 L1476.4,594.85 L1478.26,594.98 L1480.11,595.11 L1481.97,595.25 L1483.82,595.39 L1485.68,595.53 L1487.54,595.67 L1489.39,595.82 L1491.25,595.98 L1493.1,596.16 L1494.96,596.36 L1496.81,596.57 L1498.67,596.79 L1500.52,597.03 L1502.38,597.28 L1504.24,597.53 L1506.09,597.8 L1507.95,598.07 L1509.8,598.34 L1511.66,598.62 L1513.51,598.91 L1515.37,599.19 L1517.23,599.48 L1519.08,599.78 L1520.94,600.1 L1522.79,600.42 L1524.65,600.75 L1526.5,601.1 L1528.36,601.45 L1530.22,601.81 L1532.07,602.18 L1533.93,602.56 L1535.78,602.95 L1537.64,603.34 L1539.49,603.74 L1541.35,604.15" fill="none" stroke="#ee2222" stroke-width="2.8" stroke-linejoin="round"/>
</g>
<path d="M1115.15,597.4 L1141.79,592.9 L1168.42,586.15 L1179.08,583.34 L1184.41,581.65 L1189.74,578.27 L1195.06,573.77 L1200.39,568.15 L1205.72,560.27 L1208.91,556.9 L1212.64,547.9 L1216.37,541.15 L1220.9,532.15 L1227.03,517.52 L1231.82,501.77 L1236.35,487.15 L1243.81,483.77 L1249.94,490.52 L1254.2,508.52 L1258.99,532.15 L1264.32,561.4 L1268.05,589.52 L1274.97,607.52 L1280.84,625.52 L1286.16,650.27 L1290.69,664.9 L1296.82,651.4 L1302.68,637.9 L1307.47,628.9 L1313.33,621.02 L1318.13,619.9 L1322.39,624.4 L1329.32,627.77 L1354.89,624.4 L1381.53,618.77 L1408.16,612.02 L1434.8,606.4" fill="none" stroke="#ee2222" stroke-width="2.2" stroke-dasharray="2,2.5"/>
<circle cx="1115.15" cy="597.4" r="5.2" fill="none" stroke="#ee2222" stroke-width="2.6"/>
<circle cx="1141.79" cy="592.9" r="5.2" fill="none" stroke="#ee2222" stroke-width="2.6"/>
<circle cx="1168.42" cy="586.15" r="5.2" fill="none" stroke="#ee2222" stroke-width="2.6"/>
<circle cx="1179.08" cy="583.34" r="5.2" fill="none" stroke="#ee2222" stroke-width="2.6"/>
<circle cx="1184.41" cy="581.65" r="5.2" fill="none" stroke="#ee2222" stroke-width="2.6"/>
<circle cx="1189.74" cy="578.27" r="5.2" fill="none" stroke="#ee2222" stroke-width="2.6"/>
<circle cx="1195.06" cy="573.77" r="5.2" fill="none" stroke="#ee2222" stroke-width="2.6"/>
<circle cx="1200.39" cy="568.15" r="5.2" fill="none" stroke="#ee2222" stroke-width="2.6"/>
<circle cx="1205.72" cy="560.27" r="5.2" fill="none" stroke="#ee2222" stroke-width="2.6"/>
<circle cx="1208.91" cy="556.9" r="5.2" fill="none" stroke="#ee2222" stroke-width="2.6"/>
<circle cx="1212.64" cy="547.9" r="5.2" fill="none" stroke="#ee2222" stroke-width="2.6"/>
<circle cx="1216.37" cy="541.15" r="5.2" fill="none" stroke="#ee2222" stroke-width="2.6"/>
<circle cx="1220.9" cy="532.15" r="5.2" fill="none" stroke="#ee2222" stroke-width="2.6"/>
<circle cx="1227.03" cy="517.52" r="5.2" fill="none" stroke="#ee2222" stroke-width="2.6"/>
<circle cx="1231.82" cy="501.77" r="5.2" fill="none" stroke="#ee2222" stroke-width="2.6"/>
<circle cx="1236.35" cy="487.15" r="5.2" fill="none" stroke="#ee2222" stroke-width="2.6"/>
<circle cx="1243.81" cy="483.77" r="5.2" fill="none" stroke="#ee2222" stroke-width="2.6"/>
<circle cx="1249.94" cy="490.52" r="5.2" fill="none" stroke="#ee2222" stroke-width="2.6"/>
<circle cx="1254.2" cy="508.52" r="5.2" fill="none" stroke="#ee2222" stroke-width="2.6"/>
<circle cx="1258.99" cy="532.15" r="5.2" fill="none" stroke="#ee2222" stroke-width="2.6"/>
<circle cx="1264.32" cy="561.4" r="5.2" fill="none" stroke="#ee2222" stroke-width="2.6"/>
<circle cx="1268.05" cy="589.52" r="5.2" fill="none" stroke="#ee2222" stroke-width="2.6"/>
<circle cx="1274.97" cy="607.52" r="5.2" fill="none" stroke="#ee2222" stroke-width="2.6"/>
<circle cx="1280.84" cy="625.52" r="5.2" fill="none" stroke="#ee2222" stroke-width="2.6"/>
<circle cx="1286.16" cy="650.27" r="5.2" fill="none" stroke="#ee2222" stroke-width="2.6"/>
<circle cx="1290.69" cy="664.9" r="5.2" fill="none" stroke="#ee2222" stroke-width="2.6"/>
<circle cx="1296.82" cy="651.4" r="5.2" fill="none" stroke="#ee2222" stroke-width="2.6"/>
<circle cx="1302.68" cy="637.9" r="5.2" fill="none" stroke="#ee2222" stroke-width="2.6"/>
<circle cx="1307.47" cy="628.9" r="5.2" fill="none" stroke="#ee2222" stroke-width="2.6"/>
<circle cx="1313.33" cy="621.02" r="5.2" fill="none" stroke="#ee2222" stroke-width="2.6"/>
<circle cx="1318.13" cy="619.9" r="5.2" fill="none" stroke="#ee2222" stroke-width="2.6"/>
<circle cx="1322.39" cy="624.4" r="5.2" fill="none" stroke="#ee2222" stroke-width="2.6"/>
<circle cx="1329.32" cy="627.77" r="5.2" fill="none" stroke="#ee2222" stroke-width="2.6"/>
<circle cx="1354.89" cy="624.4" r="5.2" fill="none" stroke="#ee2222" stroke-width="2.6"/>
<circle cx="1381.53" cy="618.77" r="5.2" fill="none" stroke="#ee2222" stroke-width="2.6"/>
<circle cx="1408.16" cy="612.02" r="5.2" fill="none" stroke="#ee2222" stroke-width="2.6"/>
<circle cx="1434.8" cy="606.4" r="5.2" fill="none" stroke="#ee2222" stroke-width="2.6"/>
<path d="M1115.15,605.27 L1141.79,592.9 L1168.42,592.9 L1195.06,589.52 L1221.7,582.77 L1248.34,570.4 L1274.97,590.65 L1301.61,574.9 L1328.25,579.4 L1354.89,581.65 L1381.53,585.02 L1408.16,590.65 L1434.8,589.52" fill="none" stroke="#2222ee" stroke-width="2" stroke-dasharray="4,2,1.5,2"/>
<circle cx="1115.15" cy="605.27" r="5.2" fill="none" stroke="#2222ee" stroke-width="2.6"/>
<circle cx="1141.79" cy="592.9" r="5.2" fill="none" stroke="#2222ee" stroke-width="2.6"/>
<circle cx="1168.42" cy="592.9" r="5.2" fill="none" stroke="#2222ee" stroke-width="2.6"/>
<circle cx="1195.06" cy="589.52" r="5.2" fill="none" stroke="#2222ee" stroke-width="2.6"/>
<circle cx="1221.7" cy="582.77" r="5.2" fill="none" stroke="#2222ee" stroke-width="2.6"/>
<circle cx="1248.34" cy="570.4" r="5.2" fill="none" stroke="#2222ee" stroke-width="2.6"/>
<circle cx="1274.97" cy="590.65" r="5.2" fill="none" stroke="#2222ee" stroke-width="2.6"/>
<circle cx="1301.61" cy="574.9" r="5.2" fill="none" stroke="#2222ee" stroke-width="2.6"/>
<circle cx="1328.25" cy="579.4" r="5.2" fill="none" stroke="#2222ee" stroke-width="2.6"/>
<circle cx="1354.89" cy="581.65" r="5.2" fill="none" stroke="#2222ee" stroke-width="2.6"/>
<circle cx="1381.53" cy="585.02" r="5.2" fill="none" stroke="#2222ee" stroke-width="2.6"/>
<circle cx="1408.16" cy="590.65" r="5.2" fill="none" stroke="#2222ee" stroke-width="2.6"/>
<circle cx="1434.8" cy="589.52" r="5.2" fill="none" stroke="#2222ee" stroke-width="2.6"/>
<rect x="1008.6" y="401.65" width="532.75" height="281.25" fill="none" stroke="#a9a9a9" stroke-width="1.8"/>
<line x1="1115.15" y1="682.9" x2="1115.15" y2="677.9" stroke="#a9a9a9" stroke-width="1.5"/>
<line x1="1115.15" y1="401.65" x2="1115.15" y2="406.65" stroke="#a9a9a9" stroke-width="1.5"/>
<line x1="1221.7" y1="682.9" x2="1221.7" y2="677.9" stroke="#a9a9a9" stroke-width="1.5"/>
<line x1="1221.7" y1="401.65" x2="1221.7" y2="406.65" stroke="#a9a9a9" stroke-width="1.5"/>
<line x1="1328.25" y1="682.9" x2="1328.25" y2="677.9" stroke="#a9a9a9" stroke-width="1.5"/>
<line x1="1328.25" y1="401.65" x2="1328.25" y2="406.65" stroke="#a9a9a9" stroke-width="1.5"/>
<line x1="1434.8" y1="682.9" x2="1434.8" y2="677.9" stroke="#a9a9a9" stroke-width="1.5"/>
<line x1="1434.8" y1="401.65" x2="1434.8" y2="406.65" stroke="#a9a9a9" stroke-width="1.5"/>
<line x1="1008.6" y1="626.65" x2="1013.6" y2="626.65" stroke="#a9a9a9" stroke-width="1.5"/>
<line x1="1541.35" y1="626.65" x2="1536.35" y2="626.65" stroke="#a9a9a9" stroke-width="1.5"/>
<line x1="1008.6" y1="570.4" x2="1013.6" y2="570.4" stroke="#a9a9a9" stroke-width="1.5"/>
<line x1="1541.35" y1="570.4" x2="1536.35" y2="570.4" stroke="#a9a9a9" stroke-width="1.5"/>
<line x1="1008.6" y1="514.15" x2="1013.6" y2="514.15" stroke="#a9a9a9" stroke-width="1.5"/>
<line x1="1541.35" y1="514.15" x2="1536.35" y2="514.15" stroke="#a9a9a9" stroke-width="1.5"/>
<line x1="1008.6" y1="457.9" x2="1013.6" y2="457.9" stroke="#a9a9a9" stroke-width="1.5"/>
<line x1="1541.35" y1="457.9" x2="1536.35" y2="457.9" stroke="#a9a9a9" stroke-width="1.5"/>
<polygon points="1245.9,467 1241.7,453 1250.1,453" fill="#000"/>
<text x="1001" y="690.9" font-size="24" font-family="'Liberation Serif', 'Times New Roman', serif" text-anchor="end" fill="#3a3a3a">0</text>
<text x="1001" y="634.65" font-size="24" font-family="'Liberation Serif', 'Times New Roman', serif" text-anchor="end" fill="#3a3a3a">0.5</text>
<text x="1001" y="578.4" font-size="24" font-family="'Liberation Serif', 'Times New Roman', serif" text-anchor="end" fill="#3a3a3a">1</text>
<text x="1001" y="522.15" font-size="24" font-family="'Liberation Serif', 'Times New Roman', serif" text-anchor="end" fill="#3a3a3a">1.5</text>
<text x="1001" y="465.9" font-size="24" font-family="'Liberation Serif', 'Times New Roman', serif" text-anchor="end" fill="#3a3a3a">2</text>
<text x="1001" y="409.65" font-size="24" font-family="'Liberation Serif', 'Times New Roman', serif" text-anchor="end" fill="#3a3a3a">2.5</text>
<text x="1008.6" y="713" font-size="24" font-family="'Liberation Serif', 'Times New Roman', serif" text-anchor="middle" fill="#3a3a3a">20</text>
<text x="1115.15" y="713" font-size="24" font-family="'Liberation Serif', 'Times New Roman', serif" text-anchor="middle" fill="#3a3a3a">40</text>
<text x="1221.7" y="713" font-size="24" font-family="'Liberation Serif', 'Times New Roman', serif" text-anchor="middle" fill="#3a3a3a">60</text>
<text x="1328.25" y="713" font-size="24" font-family="'Liberation Serif', 'Times New Roman', serif" text-anchor="middle" fill="#3a3a3a">80</text>
<text x="1434.8" y="713" font-size="24" font-family="'Liberation Serif', 'Times New Roman', serif" text-anchor="middle" fill="#3a3a3a">100</text>
<text x="1541.35" y="713" font-size="24" font-family="'Liberation Serif', 'Times New Roman', serif" text-anchor="middle" fill="#3a3a3a">120</text>
<text x="1275.5" y="742" font-size="24.5" font-family="'Liberation Serif', 'Times New Roman', serif" text-anchor="middle" fill="#3a3a3a">Frequency (kHz)</text>
<text x="0" y="0" font-size="24.5" font-family="'Liberation Serif', 'Times New Roman', serif" text-anchor="middle" fill="#3a3a3a" transform="translate(963.5,542) rotate(-90)">Magnitude</text>
<text x="1236.3" y="390" font-size="24.5" font-family="'Liberation Serif', 'Times New Roman', serif" fill="#3a3a3a"><tspan font-style="italic">f</tspan><tspan font-size="17" dy="5">p</tspan><tspan dy="-5"> = 64 kHz</tspan></text>
<text x="1120.5" y="505.1" font-size="22.7" font-family="'Liberation Serif', 'Times New Roman', serif" text-anchor="end" fill="#3a3a3a">Without</text>
<text x="1120.5" y="532.3" font-size="22.7" font-family="'Liberation Serif', 'Times New Roman', serif" text-anchor="end" fill="#3a3a3a">resonator</text>
<text x="1120.5" y="559.5" font-size="22.7" font-family="'Liberation Serif', 'Times New Roman', serif" text-anchor="end" fill="#3a3a3a">(Sim.)</text>
<line x1="1131" y1="529.3" x2="1153.58" y2="559.44" stroke="#000" stroke-width="1.3"/>
<polygon points="1158.2,565.6 1147.6,559.8 1155.61,553.8" fill="#000"/>
<text x="1088.7" y="644.2" font-size="22.7" font-family="'Liberation Serif', 'Times New Roman', serif" fill="#3a3a3a">With resonator</text>
<text x="1088.7" y="671.4" font-size="22.7" font-family="'Liberation Serif', 'Times New Roman', serif" fill="#3a3a3a">(Sim.)</text>
<line x1="1078.1" y1="626" x2="1067.93" y2="613.81" stroke="#000" stroke-width="1.3"/>
<polygon points="1063,607.9 1073.89,613.14 1066.21,619.55" fill="#000"/>
<text x="1334.5" y="458.3" font-size="22.7" font-family="'Liberation Serif', 'Times New Roman', serif" fill="#3a3a3a">With resonator</text>
<text x="1333" y="485.5" font-size="22.7" font-family="'Liberation Serif', 'Times New Roman', serif" fill="#3a3a3a">(Exp.)</text>
<line x1="1325.5" y1="462.8" x2="1268.94" y2="519.36" stroke="#000" stroke-width="1.3"/>
<polygon points="1263.5,524.8 1267.74,513.49 1274.81,520.56" fill="#000"/>
<text x="1389" y="515.7" font-size="22.7" font-family="'Liberation Serif', 'Times New Roman', serif" fill="#3a3a3a">Without</text>
<text x="1387.5" y="542.9" font-size="22.7" font-family="'Liberation Serif', 'Times New Roman', serif" fill="#3a3a3a">resonator</text>
<text x="1387.5" y="571.6" font-size="22.7" font-family="'Liberation Serif', 'Times New Roman', serif" fill="#3a3a3a">(Exp.)</text>
<line x1="1375.4" y1="536.9" x2="1338.75" y2="569.58" stroke="#000" stroke-width="1.3"/>
<polygon points="1333,574.7 1337.88,563.65 1344.54,571.11" fill="#000"/>
</g>
<defs><linearGradient id="cPlate" x1="0" y1="0" x2="1" y2="0"><stop offset="0" stop-color="#a3a3a3"/><stop offset="0.3" stop-color="#999999"/><stop offset="0.55" stop-color="#7a7a7a"/><stop offset="0.75" stop-color="#6c6c6c"/><stop offset="1" stop-color="#6a6a6a"/></linearGradient><linearGradient id="cPlateV" x1="0" y1="0" x2="0" y2="1"><stop offset="0" stop-color="#ffffff" stop-opacity="0.12"/><stop offset="0.3" stop-color="#ffffff" stop-opacity="0"/><stop offset="1" stop-color="#000" stop-opacity="0.0"/></linearGradient><linearGradient id="cBand" x1="0" y1="0" x2="0" y2="1"><stop offset="0" stop-color="#d0d0d0"/><stop offset="1" stop-color="#a5a5a5"/></linearGradient><radialGradient id="cInset" cx="0.45" cy="0.3" r="0.75"><stop offset="0" stop-color="#ffffff"/><stop offset="0.6" stop-color="#e0e0e0"/><stop offset="1" stop-color="#b0b0b0"/></radialGradient><linearGradient id="cRing" x1="0" y1="0" x2="0" y2="1"><stop offset="0" stop-color="#f7d62a"/><stop offset="1" stop-color="#e9bd12"/></linearGradient><radialGradient id="cHole" cx="0.5" cy="0.6" r="0.6"><stop offset="0" stop-color="#62625e"/><stop offset="1" stop-color="#4a4a47"/></radialGradient></defs>
<path d="M12.5,1013.5 L23.1,1012.16 L33.7,1010.9 L44.3,1009.71 L54.91,1008.58 L65.51,1007.52 L76.11,1006.53 L86.71,1005.59 L97.31,1004.71 L107.91,1003.89 L118.51,1003.11 L129.11,1002.38 L139.72,1001.7 L150.32,1001.06 L160.92,1000.45 L171.52,999.88 L182.12,999.34 L192.72,998.83 L203.32,998.35 L213.92,997.89 L224.53,997.45 L235.13,997.04 L245.73,996.65 L256.33,996.28 L266.93,995.94 L277.53,995.61 L288.13,995.31 L298.73,995.03 L309.34,994.77 L319.94,994.54 L330.54,994.32 L341.14,994.13 L351.74,993.96 L362.34,993.81 L372.94,993.69 L383.54,993.6 L394.15,993.53 L404.75,993.48 L415.35,993.46 L425.95,993.47 L436.55,993.5 L447.15,993.54 L457.75,993.61 L468.35,993.68 L478.96,993.78 L489.56,993.89 L500.16,994 L510.76,994.13 L521.36,994.27 L531.96,994.42 L542.56,994.59 L553.16,994.79 L563.77,995.01 L574.37,995.26 L584.97,995.54 L595.57,995.86 L606.17,996.21 L616.77,996.61 L627.37,997.06 L637.97,997.55 L648.58,998.09 L659.18,998.66 L669.78,999.25 L680.38,999.86 L690.98,1000.47 L701.58,1001.09 L712.18,1001.71 L722.78,1002.32 L733.39,1002.95 L743.99,1003.6 L754.59,1004.26 L765.19,1004.96 L775.79,1005.7 L786.39,1006.48 L796.99,1007.31 L807.59,1008.2 L818.2,1009.16 L828.8,1010.19 L839.4,1011.3 L850,1012.5 L850,1123 L439,1124 Q215,1199.5 12.5,1249 Z" fill="url(#cPlate)"/>
<path d="M12.5,1013.5 L23.1,1012.16 L33.7,1010.9 L44.3,1009.71 L54.91,1008.58 L65.51,1007.52 L76.11,1006.53 L86.71,1005.59 L97.31,1004.71 L107.91,1003.89 L118.51,1003.11 L129.11,1002.38 L139.72,1001.7 L150.32,1001.06 L160.92,1000.45 L171.52,999.88 L182.12,999.34 L192.72,998.83 L203.32,998.35 L213.92,997.89 L224.53,997.45 L235.13,997.04 L245.73,996.65 L256.33,996.28 L266.93,995.94 L277.53,995.61 L288.13,995.31 L298.73,995.03 L309.34,994.77 L319.94,994.54 L330.54,994.32 L341.14,994.13 L351.74,993.96 L362.34,993.81 L372.94,993.69 L383.54,993.6 L394.15,993.53 L404.75,993.48 L415.35,993.46 L425.95,993.47 L436.55,993.5 L447.15,993.54 L457.75,993.61 L468.35,993.68 L478.96,993.78 L489.56,993.89 L500.16,994 L510.76,994.13 L521.36,994.27 L531.96,994.42 L542.56,994.59 L553.16,994.79 L563.77,995.01 L574.37,995.26 L584.97,995.54 L595.57,995.86 L606.17,996.21 L616.77,996.61 L627.37,997.06 L637.97,997.55 L648.58,998.09 L659.18,998.66 L669.78,999.25 L680.38,999.86 L690.98,1000.47 L701.58,1001.09 L712.18,1001.71 L722.78,1002.32 L733.39,1002.95 L743.99,1003.6 L754.59,1004.26 L765.19,1004.96 L775.79,1005.7 L786.39,1006.48 L796.99,1007.31 L807.59,1008.2 L818.2,1009.16 L828.8,1010.19 L839.4,1011.3 L850,1012.5 L850,1123 L439,1124 Q215,1199.5 12.5,1249 Z" fill="url(#cPlateV)"/>
<path d="M12.5,1248.5 Q215,1199 439,1123.5 L850,1122.5 L850,1135 L441,1136 Q215,1215 12.5,1269 Z" fill="url(#cBand)"/>
<path d="M12.5,1269 Q215,1215 441,1136 L850,1135" fill="none" stroke="#9a9a9a" stroke-width="1.2"/>
<clipPath id="cCav"><path d="M262,1125 C262,1114 266,1108 272,1104 C285,1096 300,1090 330,1084 C370,1078 400,1076 440,1076 C490,1076 537,1081 580,1088 C620,1095 660,1108 680,1122 L439,1122 L375,1138 L300,1161 L278,1166 L265,1155 Z"/></clipPath>
<path d="M262,1125 C262,1114 266,1108 272,1104 C285,1096 300,1090 330,1084 C370,1078 400,1076 440,1076 C490,1076 537,1081 580,1088 C620,1095 660,1108 680,1122 L439,1122 L375,1138 L300,1161 L278,1166 L265,1155 Z" fill="url(#cHole)"/>
<path d="M265,1155 L278,1166 L300,1161 L373,1137 L373,1122 L262,1122 Z" fill="#3a3632"/>
<path d="M373,1122 L440,1122 L440,1125 L373,1137 Z" fill="#9c9c9c"/>
<path d="M362,1122 C370,1108 400,1100 442,1100 C484,1100 514,1108 522,1122 Z" fill="#9a9a9a"/>
<g clip-path="url(#cCav)">
<line x1="358.86" y1="1131.25" x2="198.52" y2="1139.01" stroke="#8a6646" stroke-width="3.5"/>
<line x1="356.05" y1="1123.02" x2="190.15" y2="1121.98" stroke="#8a6646" stroke-width="3.5"/>
<line x1="361.07" y1="1114.42" x2="205.08" y2="1104.16" stroke="#8a6646" stroke-width="3.5"/>
<line x1="375.65" y1="1106" x2="248.49" y2="1086.72" stroke="#8a6646" stroke-width="3.5"/>
<line x1="400.56" y1="1099.28" x2="322.63" y2="1072.79" stroke="#8a6646" stroke-width="3.5"/>
<line x1="432.68" y1="1096.11" x2="418.21" y2="1066.22" stroke="#8a6646" stroke-width="3.5"/>
<line x1="465.96" y1="1097.37" x2="517.25" y2="1068.84" stroke="#8a6646" stroke-width="3.5"/>
<line x1="493.99" y1="1102.55" x2="600.7" y2="1079.57" stroke="#8a6646" stroke-width="3.5"/>
<line x1="512.75" y1="1110" x2="656.51" y2="1095" stroke="#8a6646" stroke-width="3.5"/>
<line x1="522.16" y1="1118.18" x2="684.54" y2="1111.94" stroke="#8a6646" stroke-width="3.5"/>
</g>
<clipPath id="cCavClip"><rect x="150" y="1040" width="600" height="82"/></clipPath>
<ellipse cx="442" cy="1126" rx="78" ry="26" fill="none" stroke="#958f5e" stroke-width="12" clip-path="url(#cCavClip)"/>
<ellipse cx="442" cy="1121" rx="79" ry="26" fill="none" stroke="#aba577" stroke-width="2" clip-path="url(#cCavClip)"/>
<path d="M165,1112 C164,1140 166,1165 174,1182 C180,1194 190,1199 205,1199 L232,1197 L232,1150 L206,1150 Z" fill="#f0c81c"/>
<path d="M168,1160 C172,1180 182,1192 205,1194 L205,1186 C188,1184 176,1176 170,1150 Z" fill="#e2ad10"/>
<path d="M165,1150 L165,1112.5 L178,1092 L206,1075 L243.75,1063.75 L300,1054.4 L375,1048.75 L450,1046 L510.6,1050 L591.2,1061 L645,1074.5 L675,1082 L690,1087 L700,1094 L704,1100.4 L702,1110 L695,1117 L680,1110 L666.5,1101 L618,1085 L537.5,1069 L450,1064.7 L375,1067.5 L300,1075 L253,1086 L225,1101 L213.75,1120 L212,1136 L214,1150 Z" fill="url(#cRing)"/>
<path d="M213.75,1120 C216,1108 222,1100 225,1101 C235,1093 245,1089 253,1086 C270,1081 285,1078 300,1075 C330,1070 350,1068 375,1067.5 C400,1066 425,1064.7 450,1064.7 C480,1065 510,1066 537.5,1069 C570,1073 600,1079 618,1085 C640,1091 660,1098 680,1110 L668,1113 C650,1104 635,1099 618,1093 C590,1086 565,1081 537,1078 C505,1074 480,1073 450,1073 C410,1073 380,1075 356,1078.75 C330,1082 315,1086 300,1090 C285,1095 270,1102 262.5,1108.75 C250,1117 243,1128 240,1140 L228,1150 L214,1150 Z" fill="#c9a42a"/>
<path d="M240,1140 C243,1128 250,1117 262.5,1108.75 L262,1125 L265,1155 L250,1160 L232,1160 Z" fill="#9b9b9b"/>
<path d="M206,1150 L249,1150 L249,1167 L232.5,1167 L232.5,1193 L206,1195 Z" fill="#f8dc3e"/>
<path d="M232.5,1167 L249,1167 L249,1190 L232.5,1193 Z" fill="#a4a4a4"/>
<path d="M650,1092 C672,1093 695,1098 705,1106 L708,1118 L700,1128 L675,1130 L655,1124 Z" fill="#efe38a" opacity="0.95"/>
<rect x="624.8" y="913.3" width="159.8" height="116.3" fill="url(#cInset)"/>
<path d="M624.8,996 C680,994 740,997 784.6,1003 L784.6,1029.6 L624.8,1029.6 Z" fill="#8d8d8d"/>
<rect x="671" y="979" width="27" height="21" fill="#f7f7f7"/>
<rect x="717" y="979" width="20" height="21" fill="#f7f7f7"/>
<path d="M676,947.4 H736.5 V976.8 H717.9 V1009.4 H697.7 V976.8 H676 Z" fill="#f5d41f"/>
<rect x="624.8" y="913.3" width="159.8" height="116.3" fill="none" stroke="#333" stroke-width="2.4" stroke-dasharray="10,6"/>
<rect x="641.9" y="1088.5" width="72.9" height="45" fill="none" stroke="#333" stroke-width="2.4" stroke-dasharray="10,6"/>
<polyline points="625,1030 633,1056 641.9,1088.5" fill="none" stroke="#333" stroke-width="2.2"/>
<line x1="784.6" y1="1030" x2="714.8" y2="1088.5" stroke="#333" stroke-width="2.4" stroke-dasharray="10,6"/>
<line x1="683" y1="942.7" x2="731" y2="942.7" stroke="#111" stroke-width="1.2"/>
<polygon points="677.6,942.7 683.6,939.9 683.6,945.5" fill="#111"/>
<polygon points="736.5,942.7 730.5,945.5 730.5,939.9" fill="#111"/>
<line x1="743.6" y1="955" x2="743.6" y2="973" stroke="#111" stroke-width="1.2"/>
<polygon points="743.6,949.5 746.4,955.5 740.8,955.5" fill="#111"/>
<polygon points="743.6,978.5 740.8,972.5 746.4,972.5" fill="#111"/>
<line x1="669.8" y1="985" x2="669.8" y2="1003" stroke="#111" stroke-width="1.2"/>
<polygon points="669.8,979.5 672.6,985.5 667,985.5" fill="#111"/>
<polygon points="669.8,1008 667,1002 672.6,1002" fill="#111"/>
<line x1="653" y1="978.4" x2="697" y2="978.4" stroke="#777" stroke-width="1" stroke-dasharray="1.5,1.5"/>
<line x1="653" y1="1007.9" x2="697" y2="1007.9" stroke="#555" stroke-width="1" stroke-dasharray="1.5,1.5"/>
<line x1="688" y1="1000" x2="693" y2="1000" stroke="#111" stroke-width="1.2"/>
<polygon points="697.5,1000 692.5,1002.5 692.5,997.5" fill="#111"/>
<line x1="723" y1="1000" x2="728" y2="1000" stroke="#111" stroke-width="1.2"/>
<polygon points="718.2,1000 723.2,997.5 723.2,1002.5" fill="#111"/>
<text x="693" y="936.5" font-size="17" font-family="'Liberation Serif', 'Times New Roman', serif" font-style="italic" fill="#333">m<tspan font-size="12.75" dy="3">x</tspan></text>
<text x="745.8" y="965.5" font-size="17" font-family="'Liberation Serif', 'Times New Roman', serif" font-style="italic" fill="#333">m<tspan font-size="12.75" dy="3">y</tspan></text>
<text x="638.8" y="995.4" font-size="17" font-family="'Liberation Serif', 'Times New Roman', serif" font-style="italic" fill="#333">s<tspan font-size="12.75" dy="3">y</tspan></text>
<text x="719.5" y="1013.5" font-size="17" font-family="'Liberation Serif', 'Times New Roman', serif" font-style="italic" fill="#333">s<tspan font-size="12.75" dy="3">x</tspan></text>
<line x1="439.4" y1="1135" x2="439.4" y2="1192" stroke="#555" stroke-width="1.4" stroke-dasharray="5,4"/>
<line x1="563.4" y1="1123" x2="563.4" y2="1192" stroke="#555" stroke-width="1.4" stroke-dasharray="5,4"/>
<line x1="683.8" y1="1135" x2="683.8" y2="1192" stroke="#555" stroke-width="1.4" stroke-dasharray="5,4"/>
<text x="415.5" y="1223.4" font-size="20.5" font-family="'Liberation Serif', 'Times New Roman', serif" fill="#333"><tspan font-style="italic">r</tspan> = 0</text>
<text x="541" y="1223.4" font-size="20.5" font-family="'Liberation Serif', 'Times New Roman', serif" fill="#333"><tspan font-style="italic">r</tspan> = <tspan font-style="italic">a</tspan></text>
<text x="660.5" y="1223.4" font-size="20.5" font-family="'Liberation Serif', 'Times New Roman', serif" fill="#333"><tspan font-style="italic">r</tspan> = <tspan font-style="italic">W</tspan></text>
<line x1="783.6" y1="1088.5" x2="783.6" y2="1108" stroke="#000" stroke-width="3"/>
<polygon points="783.6,1121 776.1,1106 791.1,1106" fill="#000"/>
<line x1="783.6" y1="1173.8" x2="783.6" y2="1154" stroke="#000" stroke-width="3"/>
<polygon points="783.6,1141.2 791.1,1156.2 776.1,1156.2" fill="#000"/>
<text x="795" y="1180" font-size="21" font-family="'Liberation Serif', 'Times New Roman', serif" font-style="italic" fill="#222">p<tspan font-size="13" dy="4">t</tspan></text>
<line x1="70" y1="1235" x2="70" y2="1212" stroke="#000" stroke-width="2.6"/>
<polygon points="70,1200 78.5,1219 61.5,1219" fill="#000"/>
<line x1="70" y1="1235" x2="86" y2="1243.5" stroke="#000" stroke-width="2.6"/>
<polygon points="99,1250 78.22,1248.82 86.03,1233.72" fill="#000"/>
<line x1="70" y1="1235" x2="53" y2="1239.5" stroke="#000" stroke-width="2.6"/>
<polygon points="37.5,1243.5 53.73,1230.47 58.03,1246.92" fill="#000"/>
<text x="41" y="1204" font-size="21" font-family="'Liberation Serif', 'Times New Roman', serif" font-style="italic" fill="#222">e<tspan font-size="14" dy="4">z</tspan></text>
<text x="103.5" y="1236" font-size="21" font-family="'Liberation Serif', 'Times New Roman', serif" font-style="italic" fill="#222">e<tspan font-size="14" dy="4">θ</tspan></text>
<text x="32.5" y="1262" font-size="21" font-family="'Liberation Serif', 'Times New Roman', serif" font-style="italic" fill="#222">e<tspan font-size="14" dy="4">r</tspan></text>
<text x="118.5" y="940" font-size="25.9" font-family="'Liberation Serif', 'Times New Roman', serif" font-weight="bold" fill="#3a3a3a">Functioning as</text>
<text x="118.5" y="971.3" font-size="25.9" font-family="'Liberation Serif', 'Times New Roman', serif" font-weight="bold" fill="#3a3a3a">point-resonator</text>
<line x1="205" y1="990" x2="226" y2="1043" stroke="#222" stroke-width="2.4"/>
<polygon points="231.5,1056.5 218.24,1043.48 232.17,1037.93" fill="#222"/>
<path d="M966.5,1206.83 L968.02,1206.74 L969.54,1206.64 L971.06,1206.55 L972.58,1206.45 L974.1,1206.35 L975.62,1206.25 L977.15,1206.15 L978.67,1206.05 L980.19,1205.96 L981.71,1205.85 L983.23,1205.75 L984.75,1205.65 L986.27,1205.55 L987.79,1205.45 L989.31,1205.34 L990.83,1205.24 L992.35,1205.14 L993.87,1205.03 L995.4,1204.93 L996.92,1204.82 L998.44,1204.71 L999.96,1204.61 L1001.48,1204.5 L1003,1204.39 L1004.52,1204.28 L1006.04,1204.17 L1007.56,1204.06 L1009.08,1203.96 L1010.6,1203.85 L1012.12,1203.74 L1013.65,1203.63 L1015.17,1203.53 L1016.69,1203.42 L1018.21,1203.32 L1019.73,1203.21 L1021.25,1203.11 L1022.77,1203 L1024.29,1202.9 L1025.81,1202.79 L1027.33,1202.69 L1028.85,1202.58 L1030.37,1202.47 L1031.9,1202.36 L1033.42,1202.26 L1034.94,1202.15 L1036.46,1202.04 L1037.98,1201.92 L1039.5,1201.81 L1041.02,1201.7 L1042.54,1201.58 L1044.06,1201.46 L1045.58,1201.34 L1047.1,1201.22 L1048.62,1201.1 L1050.15,1200.97 L1051.67,1200.84 L1053.19,1200.71 L1054.71,1200.58 L1056.23,1200.44 L1057.75,1200.3 L1059.27,1200.16 L1060.79,1200.01 L1062.31,1199.86 L1063.83,1199.71 L1065.35,1199.56 L1066.87,1199.4 L1068.4,1199.24 L1069.92,1199.07 L1071.44,1198.89 L1072.96,1198.7 L1074.48,1198.51 L1076,1198.32 L1077.52,1198.11 L1079.04,1197.9 L1080.56,1197.69 L1082.08,1197.47 L1083.6,1197.24 L1085.12,1197.01 L1086.65,1196.77 L1088.17,1196.53 L1089.69,1196.29 L1091.21,1196.04 L1092.73,1195.78 L1094.25,1195.52 L1095.77,1195.26 L1097.29,1195 L1098.81,1194.73 L1100.33,1194.46 L1101.85,1194.19 L1103.37,1193.92 L1104.9,1193.64 L1106.42,1193.36 L1107.94,1193.08 L1109.46,1192.8 L1110.98,1192.51 L1112.5,1192.21 L1114.02,1191.91 L1115.54,1191.6 L1117.06,1191.28 L1118.58,1190.96 L1120.1,1190.62 L1121.62,1190.28 L1123.15,1189.92 L1124.67,1189.55 L1126.19,1189.18 L1127.71,1188.79 L1129.23,1188.39 L1130.75,1187.98 L1132.27,1187.55 L1133.79,1187.11 L1135.31,1186.65 L1136.83,1186.18 L1138.35,1185.7 L1139.87,1185.19 L1141.4,1184.67 L1142.92,1184.14 L1144.44,1183.58 L1145.96,1183.01 L1147.48,1182.42 L1149,1181.81 L1150.52,1181.18 L1152.04,1180.53 L1153.56,1179.85 L1155.08,1179.15 L1156.6,1178.42 L1158.12,1177.67 L1159.65,1176.88 L1161.17,1176.07 L1162.69,1175.23 L1164.21,1174.35 L1165.73,1173.44 L1167.25,1172.5 L1168.77,1171.53 L1170.29,1170.51 L1171.81,1169.43 L1173.33,1168.27 L1174.85,1167.03 L1176.37,1165.72 L1177.89,1164.36 L1179.42,1162.94 L1180.94,1161.48 L1182.46,1159.98 L1183.98,1158.45 L1185.5,1156.89 L1187.02,1155.32 L1188.54,1153.73 L1190.06,1152.14 L1191.58,1150.53 L1193.1,1148.88 L1194.62,1147.18 L1196.14,1145.39 L1197.67,1143.51 L1199.19,1141.5 L1200.71,1139.36 L1202.23,1137.06 L1203.75,1134.59 L1205.27,1131.91 L1206.79,1129 L1208.31,1125.82 L1209.83,1122.31 L1211.35,1118.13 L1212.87,1113.4 L1214.39,1108.31 L1215.92,1103.09 L1217.44,1097.93 L1218.96,1093.02 L1220.48,1088.16 L1222,1083.29 L1223.52,1078.37 L1225.04,1073.39 L1226.56,1068.31 L1228.08,1063.11 L1229.6,1057.88 L1231.12,1052.68 L1232.64,1047.52 L1234.17,1042.27 L1235.69,1037.07 L1237.21,1032.08 L1238.73,1027.44 L1240.25,1022.38 L1241.77,1017.19 L1243.29,1013.02 L1244.81,1011.05 L1246.33,1011.83 L1247.85,1014.42 L1249.37,1018.11 L1250.89,1022.2 L1252.42,1026.15 L1253.94,1030.65 L1255.46,1035.72 L1256.98,1041.18 L1258.5,1046.86 L1260.02,1053.09 L1261.54,1059.9 L1263.06,1066.8 L1264.58,1073.33 L1266.1,1079.36 L1267.62,1085.27 L1269.14,1090.92 L1270.67,1096.14 L1272.19,1100.81 L1273.71,1105.14 L1275.23,1109.2 L1276.75,1112.98 L1278.27,1116.47 L1279.79,1119.64 L1281.31,1122.53 L1282.83,1125.22 L1284.35,1127.72 L1285.87,1130.07 L1287.39,1132.28 L1288.92,1134.38 L1290.44,1136.39 L1291.96,1138.3 L1293.48,1140.11 L1295,1141.84 L1296.52,1143.51 L1298.04,1145.11 L1299.56,1146.67 L1301.08,1148.2 L1302.6,1149.73 L1304.12,1151.24 L1305.64,1152.71 L1307.17,1154.11 L1308.69,1155.41 L1310.21,1156.6 L1311.73,1157.65 L1313.25,1158.58 L1314.77,1159.47 L1316.29,1160.31 L1317.81,1161.11 L1319.33,1161.87 L1320.85,1162.59 L1322.37,1163.27 L1323.89,1163.93 L1325.42,1164.55 L1326.94,1165.16 L1328.46,1165.74 L1329.98,1166.3 L1331.5,1166.85 L1333.02,1167.38 L1334.54,1167.89 L1336.06,1168.38 L1337.58,1168.86 L1339.1,1169.33 L1340.62,1169.77 L1342.14,1170.21 L1343.67,1170.63 L1345.19,1171.03 L1346.71,1171.42 L1348.23,1171.8 L1349.75,1172.17 L1351.27,1172.52 L1352.79,1172.87 L1354.31,1173.21 L1355.83,1173.54 L1357.35,1173.86 L1358.87,1174.18 L1360.39,1174.49 L1361.92,1174.79 L1363.44,1175.08 L1364.96,1175.37 L1366.48,1175.65 L1368,1175.93 L1369.52,1176.19 L1371.04,1176.45 L1372.56,1176.71 L1374.08,1176.95 L1375.6,1177.19 L1377.12,1177.43 L1378.64,1177.65 L1380.16,1177.88 L1381.69,1178.1 L1383.21,1178.32 L1384.73,1178.53 L1386.25,1178.74 L1387.77,1178.95 L1389.29,1179.15 L1390.81,1179.35 L1392.33,1179.55 L1393.85,1179.74 L1395.37,1179.93 L1396.89,1180.11 L1398.41,1180.29 L1399.94,1180.46 L1401.46,1180.63 L1402.98,1180.8 L1404.5,1180.96 L1406.02,1181.11 L1407.54,1181.26 L1409.06,1181.41 L1410.58,1181.55 L1412.1,1181.68 L1413.62,1181.82 L1415.14,1181.95 L1416.66,1182.09 L1418.19,1182.22 L1419.71,1182.36 L1421.23,1182.49 L1422.75,1182.63 L1424.27,1182.76 L1425.79,1182.89 L1427.31,1183.02 L1428.83,1183.15 L1430.35,1183.28 L1431.87,1183.41 L1433.39,1183.53 L1434.91,1183.66 L1436.44,1183.77 L1437.96,1183.89 L1439.48,1184.01 L1441,1184.12 L1442.52,1184.22 L1444.04,1184.33 L1445.56,1184.43 L1447.08,1184.52 L1448.6,1184.61 L1450.12,1184.7 L1451.64,1184.79 L1453.16,1184.86 L1454.69,1184.94 L1456.21,1185 L1457.73,1185.07 L1459.25,1185.12 L1460.77,1185.17 L1462.29,1185.22 L1463.81,1185.26 L1465.33,1185.29 L1466.85,1185.31 L1468.37,1185.33 L1469.89,1185.36 L1471.41,1185.38 L1472.94,1185.4 L1474.46,1185.42 L1475.98,1185.43 L1477.5,1185.45 L1479.02,1185.47 L1480.54,1185.49 L1482.06,1185.5 L1483.58,1185.52 L1485.1,1185.54 L1486.62,1185.55 L1488.14,1185.56 L1489.66,1185.58 L1491.19,1185.59 L1492.71,1185.6 L1494.23,1185.61 L1495.75,1185.62 L1497.27,1185.63 L1498.79,1185.64 L1500.31,1185.65 L1501.83,1185.66 L1503.35,1185.66 L1504.87,1185.67 L1506.39,1185.67 L1507.91,1185.68 L1509.44,1185.68 L1510.96,1185.68 L1512.48,1185.68 L1514,1185.68 L1515.52,1185.67 L1517.04,1185.66 L1518.56,1185.64 L1520.08,1185.61 L1521.6,1185.58 L1523.12,1185.54 L1524.64,1185.5 L1526.16,1185.45 L1527.69,1185.4 L1529.21,1185.34 L1530.73,1185.27 L1532.25,1185.21 L1533.77,1185.13 L1535.29,1185.06 L1536.81,1184.97 L1538.33,1184.89 L1539.85,1184.8 L1541.37,1184.7 L1542.89,1184.6 L1544.41,1184.5 L1545.94,1184.4 L1547.46,1184.29 L1548.98,1184.17 L1550.5,1184.06 L1552.02,1183.94 L1553.54,1183.81 L1555.06,1183.69 L1556.58,1183.56 L1558.1,1183.43 L1559.62,1183.3 L1561.14,1183.16 L1562.66,1183.02 L1564.19,1182.88 L1565.71,1182.74 L1567.23,1182.59 L1568.75,1182.45 L1570.27,1182.3 L1571.79,1182.15 L1573.31,1182" fill="none" stroke="#000" stroke-width="2.6" stroke-linejoin="round"/>
<circle cx="966.5" cy="1197.18" r="6" fill="none" stroke="#e8404a" stroke-width="1.2"/>
<circle cx="986.73" cy="1197.18" r="6" fill="none" stroke="#e8404a" stroke-width="1.2"/>
<circle cx="1006.95" cy="1197.18" r="6" fill="none" stroke="#e8404a" stroke-width="1.2"/>
<circle cx="1027.18" cy="1197.77" r="6" fill="none" stroke="#e8404a" stroke-width="1.2"/>
<circle cx="1047.41" cy="1194.53" r="6" fill="none" stroke="#e8404a" stroke-width="1.2"/>
<circle cx="1067.63" cy="1192.32" r="6" fill="none" stroke="#e8404a" stroke-width="1.2"/>
<circle cx="1087.86" cy="1189.37" r="6" fill="none" stroke="#e8404a" stroke-width="1.2"/>
<circle cx="1108.09" cy="1188.63" r="6" fill="none" stroke="#e8404a" stroke-width="1.2"/>
<circle cx="1128.32" cy="1184.21" r="6" fill="none" stroke="#e8404a" stroke-width="1.2"/>
<circle cx="1148.54" cy="1180.52" r="6" fill="none" stroke="#e8404a" stroke-width="1.2"/>
<circle cx="1168.77" cy="1173.89" r="6" fill="none" stroke="#e8404a" stroke-width="1.2"/>
<circle cx="1189" cy="1164.31" r="6" fill="none" stroke="#e8404a" stroke-width="1.2"/>
<circle cx="1208.21" cy="1143.01" r="6" fill="none" stroke="#e8404a" stroke-width="1.2"/>
<circle cx="1209.43" cy="1141.06" r="6" fill="none" stroke="#e8404a" stroke-width="1.2"/>
<circle cx="1210.64" cy="1138.85" r="6" fill="none" stroke="#e8404a" stroke-width="1.2"/>
<circle cx="1211.85" cy="1136.42" r="6" fill="none" stroke="#e8404a" stroke-width="1.2"/>
<circle cx="1213.07" cy="1133.81" r="6" fill="none" stroke="#e8404a" stroke-width="1.2"/>
<circle cx="1214.28" cy="1130.95" r="6" fill="none" stroke="#e8404a" stroke-width="1.2"/>
<circle cx="1215.49" cy="1127.73" r="6" fill="none" stroke="#e8404a" stroke-width="1.2"/>
<circle cx="1216.71" cy="1124.19" r="6" fill="none" stroke="#e8404a" stroke-width="1.2"/>
<circle cx="1217.92" cy="1120.38" r="6" fill="none" stroke="#e8404a" stroke-width="1.2"/>
<circle cx="1219.14" cy="1116.36" r="6" fill="none" stroke="#e8404a" stroke-width="1.2"/>
<circle cx="1220.35" cy="1112.08" r="6" fill="none" stroke="#e8404a" stroke-width="1.2"/>
<circle cx="1221.56" cy="1107.44" r="6" fill="none" stroke="#e8404a" stroke-width="1.2"/>
<circle cx="1222.78" cy="1102.45" r="6" fill="none" stroke="#e8404a" stroke-width="1.2"/>
<circle cx="1223.99" cy="1097.15" r="6" fill="none" stroke="#e8404a" stroke-width="1.2"/>
<circle cx="1225.2" cy="1091.57" r="6" fill="none" stroke="#e8404a" stroke-width="1.2"/>
<circle cx="1226.42" cy="1085.57" r="6" fill="none" stroke="#e8404a" stroke-width="1.2"/>
<circle cx="1227.63" cy="1079" r="6" fill="none" stroke="#e8404a" stroke-width="1.2"/>
<circle cx="1228.84" cy="1072.06" r="6" fill="none" stroke="#e8404a" stroke-width="1.2"/>
<circle cx="1230.06" cy="1064.81" r="6" fill="none" stroke="#e8404a" stroke-width="1.2"/>
<circle cx="1231.27" cy="1056.93" r="6" fill="none" stroke="#e8404a" stroke-width="1.2"/>
<circle cx="1232.49" cy="1048.95" r="6" fill="none" stroke="#e8404a" stroke-width="1.2"/>
<circle cx="1233.7" cy="1041.52" r="6" fill="none" stroke="#e8404a" stroke-width="1.2"/>
<circle cx="1234.91" cy="1034.57" r="6" fill="none" stroke="#e8404a" stroke-width="1.2"/>
<circle cx="1236.13" cy="1027.88" r="6" fill="none" stroke="#e8404a" stroke-width="1.2"/>
<circle cx="1237.34" cy="1021.49" r="6" fill="none" stroke="#e8404a" stroke-width="1.2"/>
<circle cx="1238.55" cy="1015.44" r="6" fill="none" stroke="#e8404a" stroke-width="1.2"/>
<circle cx="1240.58" cy="1018.38" r="6" fill="none" stroke="#e8404a" stroke-width="1.2"/>
<circle cx="1241.92" cy="1024.63" r="6" fill="none" stroke="#e8404a" stroke-width="1.2"/>
<circle cx="1243.27" cy="1032.99" r="6" fill="none" stroke="#e8404a" stroke-width="1.2"/>
<circle cx="1244.62" cy="1044.24" r="6" fill="none" stroke="#e8404a" stroke-width="1.2"/>
<circle cx="1245.97" cy="1059.13" r="6" fill="none" stroke="#e8404a" stroke-width="1.2"/>
<circle cx="1247.32" cy="1073.09" r="6" fill="none" stroke="#e8404a" stroke-width="1.2"/>
<circle cx="1248.67" cy="1083.24" r="6" fill="none" stroke="#e8404a" stroke-width="1.2"/>
<circle cx="1250.02" cy="1091.91" r="6" fill="none" stroke="#e8404a" stroke-width="1.2"/>
<circle cx="1251.36" cy="1099.28" r="6" fill="none" stroke="#e8404a" stroke-width="1.2"/>
<circle cx="1252.71" cy="1105.49" r="6" fill="none" stroke="#e8404a" stroke-width="1.2"/>
<circle cx="1254.06" cy="1110.92" r="6" fill="none" stroke="#e8404a" stroke-width="1.2"/>
<circle cx="1255.41" cy="1115.8" r="6" fill="none" stroke="#e8404a" stroke-width="1.2"/>
<circle cx="1256.76" cy="1120.39" r="6" fill="none" stroke="#e8404a" stroke-width="1.2"/>
<circle cx="1258.11" cy="1124.9" r="6" fill="none" stroke="#e8404a" stroke-width="1.2"/>
<circle cx="1259.45" cy="1129.26" r="6" fill="none" stroke="#e8404a" stroke-width="1.2"/>
<circle cx="1260.8" cy="1133.41" r="6" fill="none" stroke="#e8404a" stroke-width="1.2"/>
<circle cx="1262.15" cy="1137.39" r="6" fill="none" stroke="#e8404a" stroke-width="1.2"/>
<circle cx="1263.5" cy="1141.25" r="6" fill="none" stroke="#e8404a" stroke-width="1.2"/>
<circle cx="1264.85" cy="1145" r="6" fill="none" stroke="#e8404a" stroke-width="1.2"/>
<circle cx="1266.2" cy="1148.63" r="6" fill="none" stroke="#e8404a" stroke-width="1.2"/>
<circle cx="1267.55" cy="1152.11" r="6" fill="none" stroke="#e8404a" stroke-width="1.2"/>
<circle cx="1268.89" cy="1155.47" r="6" fill="none" stroke="#e8404a" stroke-width="1.2"/>
<circle cx="1290.13" cy="1175.37" r="6" fill="none" stroke="#e8404a" stroke-width="1.2"/>
<circle cx="1310.36" cy="1182.74" r="6" fill="none" stroke="#e8404a" stroke-width="1.2"/>
<circle cx="1330.59" cy="1184.21" r="6" fill="none" stroke="#e8404a" stroke-width="1.2"/>
<circle cx="1350.81" cy="1189.37" r="6" fill="none" stroke="#e8404a" stroke-width="1.2"/>
<circle cx="1371.04" cy="1192.32" r="6" fill="none" stroke="#e8404a" stroke-width="1.2"/>
<circle cx="1391.27" cy="1190.11" r="6" fill="none" stroke="#e8404a" stroke-width="1.2"/>
<circle cx="1411.49" cy="1192.32" r="6" fill="none" stroke="#e8404a" stroke-width="1.2"/>
<circle cx="1431.72" cy="1172.42" r="6" fill="none" stroke="#e8404a" stroke-width="1.2"/>
<circle cx="1451.95" cy="1184.21" r="6" fill="none" stroke="#e8404a" stroke-width="1.2"/>
<circle cx="1472.17" cy="1191.58" r="6" fill="none" stroke="#e8404a" stroke-width="1.2"/>
<circle cx="1492.4" cy="1196.74" r="6" fill="none" stroke="#e8404a" stroke-width="1.2"/>
<circle cx="1512.63" cy="1193.79" r="6" fill="none" stroke="#e8404a" stroke-width="1.2"/>
<circle cx="1532.86" cy="1185.68" r="6" fill="none" stroke="#e8404a" stroke-width="1.2"/>
<circle cx="1553.08" cy="1176.1" r="6" fill="none" stroke="#e8404a" stroke-width="1.2"/>
<circle cx="1573.31" cy="1179.79" r="6" fill="none" stroke="#e8404a" stroke-width="1.2"/>
<rect x="966.5" y="921.1" width="606.81" height="294.8" fill="none" stroke="#222" stroke-width="1.8"/>
<line x1="1067.63" y1="1215.9" x2="1067.63" y2="1209.9" stroke="#222" stroke-width="1.4"/>
<line x1="1067.63" y1="921.1" x2="1067.63" y2="927.1" stroke="#222" stroke-width="1.4"/>
<line x1="1168.77" y1="1215.9" x2="1168.77" y2="1209.9" stroke="#222" stroke-width="1.4"/>
<line x1="1168.77" y1="921.1" x2="1168.77" y2="927.1" stroke="#222" stroke-width="1.4"/>
<line x1="1269.9" y1="1215.9" x2="1269.9" y2="1209.9" stroke="#222" stroke-width="1.4"/>
<line x1="1269.9" y1="921.1" x2="1269.9" y2="927.1" stroke="#222" stroke-width="1.4"/>
<line x1="1371.04" y1="1215.9" x2="1371.04" y2="1209.9" stroke="#222" stroke-width="1.4"/>
<line x1="1371.04" y1="921.1" x2="1371.04" y2="927.1" stroke="#222" stroke-width="1.4"/>
<line x1="1472.17" y1="1215.9" x2="1472.17" y2="1209.9" stroke="#222" stroke-width="1.4"/>
<line x1="1472.17" y1="921.1" x2="1472.17" y2="927.1" stroke="#222" stroke-width="1.4"/>
<line x1="966.5" y1="1142.2" x2="972.5" y2="1142.2" stroke="#222" stroke-width="1.4"/>
<line x1="1573.31" y1="1142.2" x2="1567.31" y2="1142.2" stroke="#222" stroke-width="1.4"/>
<line x1="966.5" y1="1068.5" x2="972.5" y2="1068.5" stroke="#222" stroke-width="1.4"/>
<line x1="1573.31" y1="1068.5" x2="1567.31" y2="1068.5" stroke="#222" stroke-width="1.4"/>
<line x1="966.5" y1="994.8" x2="972.5" y2="994.8" stroke="#222" stroke-width="1.4"/>
<line x1="1573.31" y1="994.8" x2="1567.31" y2="994.8" stroke="#222" stroke-width="1.4"/>
<text x="958.5" y="1223.3" font-size="20.5" font-family="'Liberation Sans', Arial, sans-serif" text-anchor="end" fill="#333">0</text>
<text x="958.5" y="1149.6" font-size="20.5" font-family="'Liberation Sans', Arial, sans-serif" text-anchor="end" fill="#333">1</text>
<text x="958.5" y="1075.9" font-size="20.5" font-family="'Liberation Sans', Arial, sans-serif" text-anchor="end" fill="#333">2</text>
<text x="958.5" y="1002.2" font-size="20.5" font-family="'Liberation Sans', Arial, sans-serif" text-anchor="end" fill="#333">3</text>
<text x="958.5" y="928.5" font-size="20.5" font-family="'Liberation Sans', Arial, sans-serif" text-anchor="end" fill="#333">4</text>
<text x="966.5" y="1246" font-size="20.5" font-family="'Liberation Sans', Arial, sans-serif" text-anchor="middle" fill="#333">50</text>
<text x="1067.63" y="1246" font-size="20.5" font-family="'Liberation Sans', Arial, sans-serif" text-anchor="middle" fill="#333">55</text>
<text x="1168.77" y="1246" font-size="20.5" font-family="'Liberation Sans', Arial, sans-serif" text-anchor="middle" fill="#333">60</text>
<text x="1269.9" y="1246" font-size="20.5" font-family="'Liberation Sans', Arial, sans-serif" text-anchor="middle" fill="#333">65</text>
<text x="1371.04" y="1246" font-size="20.5" font-family="'Liberation Sans', Arial, sans-serif" text-anchor="middle" fill="#333">70</text>
<text x="1472.17" y="1246" font-size="20.5" font-family="'Liberation Sans', Arial, sans-serif" text-anchor="middle" fill="#333">75</text>
<text x="1573.31" y="1246" font-size="20.5" font-family="'Liberation Sans', Arial, sans-serif" text-anchor="middle" fill="#333">80</text>
<text x="1270" y="1284.4" font-size="26.3" font-family="'Liberation Serif', 'Times New Roman', serif" text-anchor="middle" fill="#2a2a2a">Frequency (kHz)</text>
<text x="0" y="0" font-size="26.3" font-family="'Liberation Serif', 'Times New Roman', serif" text-anchor="middle" fill="#2a2a2a" transform="translate(926,1076.5) rotate(-90)">Gain</text>
<line x1="1378.4" y1="960.5" x2="1410.1" y2="960.5" stroke="#000" stroke-width="3"/>
<text x="1426.2" y="969" font-size="20" font-family="'Liberation Serif', 'Times New Roman', serif" fill="#222">FEM+bonding</text>
<circle cx="1394.1" cy="985.6" r="7" fill="none" stroke="#e8404a" stroke-width="1.5"/>
<text x="1426.2" y="994" font-size="20" font-family="'Liberation Serif', 'Times New Roman', serif" fill="#e03c48">Experiment</text>
<text x="1063" y="1004.3" font-size="22" font-family="'Liberation Serif', 'Times New Roman', serif" fill="#222"><tspan font-style="italic">f</tspan></text>
<text x="1076" y="990.5" font-size="14.5" font-family="'Liberation Serif', 'Times New Roman', serif" fill="#222" stroke="#222" stroke-width="0.3">Exp.</text>
<text x="1072.5" y="1009" font-size="17" font-family="'Liberation Serif', 'Times New Roman', serif" font-style="italic" fill="#222" stroke="#222" stroke-width="0.3">peak</text>
<text x="1106" y="1004.3" font-size="21.5" font-family="'Liberation Serif', 'Times New Roman', serif" fill="#222">=63.5 kHz</text>
<line x1="1189.3" y1="1014.3" x2="1226" y2="1014.3" stroke="#000" stroke-width="2.6"/>
<polygon points="1238,1014.3 1224,1020.8 1224,1007.8" fill="#000"/>
<text x="1302.5" y="1039.5" font-size="22" font-family="'Liberation Serif', 'Times New Roman', serif" fill="#222"><tspan font-style="italic">f</tspan></text>
<text x="1316.4" y="1031.5" font-size="14.5" font-family="'Liberation Serif', 'Times New Roman', serif" fill="#222" stroke="#222" stroke-width="0.3">FEM+b.</text>
<text x="1311.5" y="1043.5" font-size="17" font-family="'Liberation Serif', 'Times New Roman', serif" font-style="italic" fill="#222" stroke="#222" stroke-width="0.3">peak</text>
<text x="1375.4" y="1039.1" font-size="21.5" font-family="'Liberation Serif', 'Times New Roman', serif" fill="#222">= 63.8 kHz</text>
<line x1="1287.7" y1="1024" x2="1260" y2="1014.5" stroke="#000" stroke-width="2.6"/>
<polygon points="1248.5,1010.5 1263.85,1008.91 1259.62,1021.2" fill="#000"/>
</svg>
</body></html>
